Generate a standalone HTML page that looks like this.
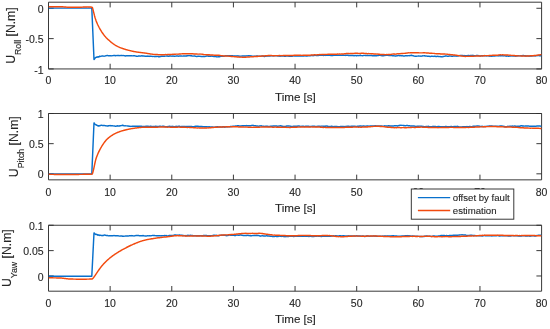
<!DOCTYPE html>
<html><head><meta charset="utf-8"><title>plot</title>
<style>html,body{margin:0;padding:0;background:#fff}svg{display:block}text{stroke:#262626;stroke-width:0.12px}</style></head>
<body>
<svg width="550" height="329" viewBox="0 0 550 329" font-family='"Liberation Sans", Arial, Helvetica, sans-serif' fill="#262626">
<rect width="550" height="329" fill="#fff"/>
<clipPath id="c0"><rect x="48.5" y="2.2" width="493.1" height="66.75"/></clipPath>
<path d="M48.5,2.2H541.6V68.95H48.5ZM110.14,68.95v-5.2M110.14,2.2v5.2M171.78,68.95v-5.2M171.78,2.2v5.2M233.41,68.95v-5.2M233.41,2.2v5.2M295.05,68.95v-5.2M295.05,2.2v5.2M356.69,68.95v-5.2M356.69,2.2v5.2M418.32,68.95v-5.2M418.32,2.2v5.2M479.96,68.95v-5.2M479.96,2.2v5.2M48.5,8.27h5.2M541.6,8.27h-5.2M48.5,38.61h5.2M541.6,38.61h-5.2M48.5,68.95h5.2M541.6,68.95h-5.2" fill="none" stroke="#2e2e2e" stroke-width="0.95"/>
<g clip-path="url(#c0)" fill="none" stroke-linejoin="round" stroke-width="1.45">
<path d="M48.5,8.10 L49.0,8.10 L49.5,8.10 L50.0,8.10 L50.5,8.10 L51.0,8.10 L51.5,8.10 L52.0,8.10 L52.5,8.10 L53.0,8.10 L53.5,8.10 L54.0,8.10 L54.5,8.10 L55.0,8.10 L55.5,8.10 L56.0,8.10 L56.5,8.10 L57.0,8.10 L57.5,8.10 L58.0,8.10 L58.5,8.10 L59.0,8.10 L59.5,8.10 L60.0,8.10 L60.5,8.10 L61.0,8.10 L61.5,8.10 L62.0,8.10 L62.5,8.10 L63.0,8.10 L63.5,8.10 L64.0,8.10 L64.5,8.10 L65.0,8.10 L65.5,8.10 L66.0,8.10 L66.5,8.10 L67.0,8.10 L67.5,8.10 L68.0,8.10 L68.5,8.10 L69.0,8.10 L69.5,8.10 L70.0,8.10 L70.5,8.10 L71.0,8.10 L71.5,8.10 L72.0,8.10 L72.5,8.10 L73.0,8.10 L73.5,8.10 L74.0,8.10 L74.5,8.10 L75.0,8.10 L75.5,8.10 L76.0,8.10 L76.5,8.10 L77.0,8.10 L77.5,8.10 L78.0,8.10 L78.5,8.10 L79.0,8.10 L79.5,8.10 L80.0,8.10 L80.5,8.10 L81.0,8.10 L81.5,8.10 L82.0,8.10 L82.5,8.10 L83.0,8.10 L83.5,8.10 L84.0,8.10 L84.5,8.10 L85.0,8.10 L85.5,8.10 L86.0,8.10 L86.5,8.10 L87.0,8.10 L87.5,8.10 L88.0,8.10 L88.5,8.10 L89.0,8.10 L89.5,8.10 L90.0,8.10 L90.1,8.10 L90.2,8.10 L90.3,8.10 L90.4,8.10 L90.5,8.10 L90.6,8.10 L90.7,8.10 L90.8,8.10 L90.9,8.10 L91.0,8.10 L91.1,8.10 L91.2,8.10 L91.3,8.10 L91.4,8.10 L91.5,8.10 L91.6,8.10 L91.7,8.10 L91.8,8.10 L91.9,10.44 L92.0,12.77 L92.1,15.11 L92.2,17.45 L92.3,19.78 L92.4,22.12 L92.5,24.45 L92.6,26.79 L92.7,29.13 L92.8,31.46 L92.9,33.80 L93.0,36.14 L93.1,38.47 L93.2,40.81 L93.3,43.15 L93.4,45.48 L93.5,47.82 L93.6,50.15 L93.7,52.49 L93.8,54.83 L93.9,57.16 L94.0,59.50 L94.1,59.50 L94.2,59.50 L94.3,59.32 L94.4,59.15 L94.5,58.98 L94.6,58.83 L94.7,58.68 L94.8,58.54 L94.9,58.41 L95.0,58.28 L95.1,58.16 L95.2,58.04 L95.3,57.93 L95.4,57.83 L95.5,57.73 L95.6,57.64 L95.7,57.55 L95.8,57.46 L95.9,57.42 L96.0,57.39 L96.1,57.38 L96.2,57.33 L96.3,57.19 L96.4,57.09 L96.5,57.15 L96.6,57.17 L96.7,57.22 L96.8,57.31 L96.9,57.26 L97.0,57.17 L97.1,57.08 L97.2,56.95 L97.3,57.05 L97.4,57.07 L97.5,57.12 L97.6,57.13 L97.7,56.97 L97.8,56.90 L97.9,56.73 L98.0,56.83 L98.1,56.77 L98.2,56.73 L98.3,56.75 L98.4,56.78 L98.5,56.83 L98.6,56.84 L98.7,56.96 L98.8,56.94 L98.9,56.92 L99.0,56.77 L99.1,56.79 L99.2,56.73 L99.3,56.61 L99.4,56.47 L99.5,56.36 L99.6,56.43 L99.7,56.37 L99.8,56.48 L99.9,56.52 L100.0,56.36 L100.5,56.38 L101.0,56.25 L101.5,56.15 L102.0,56.03 L102.5,56.07 L103.0,56.06 L103.5,56.13 L104.0,56.16 L104.5,56.12 L105.0,56.05 L105.5,55.91 L106.0,55.73 L106.5,55.61 L107.0,55.46 L107.5,55.42 L108.0,55.61 L108.5,55.80 L109.0,55.78 L109.5,55.78 L110.0,55.78 L110.5,55.68 L111.0,55.73 L111.5,55.85 L112.0,55.78 L112.5,55.63 L113.0,55.61 L113.5,55.59 L114.0,55.59 L114.5,55.52 L115.0,55.57 L115.5,55.71 L116.0,55.59 L116.5,55.61 L117.0,55.58 L117.5,55.46 L118.0,55.49 L118.5,55.47 L119.0,55.66 L119.5,55.62 L120.0,55.51 L120.5,55.63 L121.0,55.59 L121.5,55.57 L122.0,55.59 L122.5,55.60 L123.0,55.56 L123.5,55.62 L124.0,55.59 L124.5,55.71 L125.0,55.86 L125.5,55.94 L126.0,55.77 L126.5,55.74 L127.0,55.88 L127.5,55.73 L128.0,55.80 L128.5,55.77 L129.0,55.72 L129.5,55.80 L130.0,55.72 L130.5,55.74 L131.0,55.85 L131.5,55.77 L132.0,55.83 L132.5,55.87 L133.0,55.80 L133.5,55.77 L134.0,55.72 L134.5,55.73 L135.0,55.85 L135.5,55.95 L136.0,56.08 L136.5,56.18 L137.0,56.33 L137.5,56.35 L138.0,56.22 L138.5,55.91 L139.0,55.93 L139.5,56.02 L140.0,56.05 L140.5,56.17 L141.0,56.04 L141.5,55.82 L142.0,55.83 L142.5,55.93 L143.0,56.00 L143.5,56.05 L144.0,55.91 L144.5,56.12 L145.0,56.30 L145.5,56.27 L146.0,56.33 L146.5,56.23 L147.0,56.09 L147.5,56.17 L148.0,56.22 L148.5,56.30 L149.0,56.34 L149.5,56.40 L150.0,56.19 L150.5,56.26 L151.0,56.22 L151.5,56.31 L152.0,56.36 L152.5,56.41 L153.0,56.35 L153.5,56.39 L154.0,56.46 L154.5,56.49 L155.0,56.66 L155.5,56.54 L156.0,56.54 L156.5,56.50 L157.0,56.37 L157.5,56.38 L158.0,56.51 L158.5,56.70 L159.0,56.73 L159.5,56.76 L160.0,56.63 L160.5,56.51 L161.0,56.42 L161.5,56.23 L162.0,56.33 L162.5,56.30 L163.0,56.26 L163.5,56.36 L164.0,56.25 L164.5,56.27 L165.0,56.15 L165.5,56.14 L166.0,56.11 L166.5,56.08 L167.0,56.05 L167.5,56.04 L168.0,56.19 L168.5,56.27 L169.0,56.19 L169.5,56.04 L170.0,55.94 L170.5,55.96 L171.0,56.08 L171.5,56.12 L172.0,56.17 L172.5,56.06 L173.0,55.91 L173.5,56.07 L174.0,56.22 L174.5,56.20 L175.0,56.22 L175.5,56.14 L176.0,56.08 L176.5,55.99 L177.0,55.97 L177.5,56.01 L178.0,56.13 L178.5,56.16 L179.0,56.09 L179.5,56.08 L180.0,56.10 L180.5,56.01 L181.0,56.00 L181.5,56.02 L182.0,56.12 L182.5,56.13 L183.0,56.05 L183.5,55.89 L184.0,55.95 L184.5,55.92 L185.0,55.91 L185.5,55.90 L186.0,55.96 L186.5,56.01 L187.0,55.77 L187.5,55.82 L188.0,55.72 L188.5,55.60 L189.0,55.63 L189.5,55.63 L190.0,55.69 L190.5,55.68 L191.0,55.73 L191.5,55.79 L192.0,55.96 L192.5,56.05 L193.0,56.10 L193.5,56.06 L194.0,56.00 L194.5,56.03 L195.0,56.09 L195.5,56.23 L196.0,56.39 L196.5,56.46 L197.0,56.48 L197.5,56.34 L198.0,56.29 L198.5,56.28 L199.0,56.26 L199.5,56.36 L200.0,56.31 L200.5,56.40 L201.0,56.55 L201.5,56.52 L202.0,56.57 L202.5,56.62 L203.0,56.49 L203.5,56.43 L204.0,56.47 L204.5,56.46 L205.0,56.43 L205.5,56.35 L206.0,56.20 L206.5,56.09 L207.0,56.02 L207.5,56.05 L208.0,56.04 L208.5,56.18 L209.0,56.24 L209.5,56.28 L210.0,56.12 L210.5,56.25 L211.0,56.24 L211.5,56.08 L212.0,56.11 L212.5,56.18 L213.0,56.22 L213.5,56.43 L214.0,56.50 L214.5,56.42 L215.0,56.42 L215.5,56.48 L216.0,56.60 L216.5,56.76 L217.0,56.90 L217.5,56.86 L218.0,56.79 L218.5,56.79 L219.0,56.67 L219.5,56.68 L220.0,56.56 L220.5,56.29 L221.0,56.30 L221.5,56.33 L222.0,56.19 L222.5,56.26 L223.0,56.31 L223.5,56.10 L224.0,56.23 L224.5,56.10 L225.0,55.91 L225.5,55.73 L226.0,55.62 L226.5,55.66 L227.0,55.65 L227.5,55.72 L228.0,55.65 L228.5,55.74 L229.0,55.74 L229.5,55.73 L230.0,55.84 L230.5,55.70 L231.0,55.65 L231.5,55.71 L232.0,55.71 L232.5,55.75 L233.0,55.94 L233.5,55.98 L234.0,55.93 L234.5,55.84 L235.0,55.97 L235.5,56.02 L236.0,56.03 L236.5,55.99 L237.0,55.83 L237.5,55.87 L238.0,55.89 L238.5,56.03 L239.0,56.07 L239.5,56.15 L240.0,56.16 L240.5,56.13 L241.0,56.15 L241.5,56.09 L242.0,56.00 L242.5,55.88 L243.0,55.95 L243.5,55.95 L244.0,55.95 L244.5,55.89 L245.0,55.94 L245.5,55.86 L246.0,55.94 L246.5,55.85 L247.0,55.81 L247.5,55.89 L248.0,55.88 L248.5,55.66 L249.0,55.74 L249.5,55.84 L250.0,55.73 L250.5,55.94 L251.0,56.02 L251.5,56.00 L252.0,56.15 L252.5,56.17 L253.0,56.29 L253.5,56.20 L254.0,56.17 L254.5,56.12 L255.0,56.10 L255.5,56.14 L256.0,56.10 L256.5,56.02 L257.0,56.05 L257.5,56.08 L258.0,56.16 L258.5,56.26 L259.0,56.23 L259.5,56.30 L260.0,56.26 L260.5,56.12 L261.0,56.17 L261.5,56.12 L262.0,56.09 L262.5,56.08 L263.0,56.05 L263.5,56.19 L264.0,56.43 L264.5,56.47 L265.0,56.32 L265.5,56.18 L266.0,56.11 L266.5,56.15 L267.0,56.17 L267.5,55.95 L268.0,55.95 L268.5,56.04 L269.0,56.06 L269.5,56.03 L270.0,55.94 L270.5,55.78 L271.0,55.67 L271.5,55.82 L272.0,55.84 L272.5,55.88 L273.0,55.96 L273.5,55.87 L274.0,55.81 L274.5,55.77 L275.0,55.68 L275.5,55.73 L276.0,55.70 L276.5,55.77 L277.0,55.82 L277.5,55.84 L278.0,55.98 L278.5,56.11 L279.0,56.12 L279.5,56.11 L280.0,56.22 L280.5,56.08 L281.0,56.04 L281.5,56.12 L282.0,56.03 L282.5,55.93 L283.0,55.91 L283.5,56.01 L284.0,56.05 L284.5,56.20 L285.0,56.16 L285.5,56.18 L286.0,56.10 L286.5,56.10 L287.0,56.01 L287.5,56.03 L288.0,55.99 L288.5,56.08 L289.0,56.29 L289.5,56.29 L290.0,56.27 L290.5,56.27 L291.0,56.19 L291.5,56.28 L292.0,56.30 L292.5,56.05 L293.0,56.01 L293.5,55.85 L294.0,55.83 L294.5,55.98 L295.0,55.97 L295.5,56.07 L296.0,56.11 L296.5,55.94 L297.0,56.12 L297.5,56.08 L298.0,56.01 L298.5,55.99 L299.0,55.88 L299.5,55.97 L300.0,56.02 L300.5,56.11 L301.0,55.97 L301.5,56.05 L302.0,56.04 L302.5,55.98 L303.0,56.14 L303.5,56.06 L304.0,55.95 L304.5,55.77 L305.0,55.79 L305.5,55.77 L306.0,56.00 L306.5,56.09 L307.0,56.03 L307.5,55.97 L308.0,55.73 L308.5,55.79 L309.0,55.70 L309.5,55.77 L310.0,55.74 L310.5,55.66 L311.0,55.64 L311.5,55.53 L312.0,55.54 L312.5,55.62 L313.0,55.68 L313.5,55.57 L314.0,55.56 L314.5,55.36 L315.0,55.38 L315.5,55.37 L316.0,55.44 L316.5,55.45 L317.0,55.51 L317.5,55.54 L318.0,55.52 L318.5,55.45 L319.0,55.39 L319.5,55.30 L320.0,55.29 L320.5,55.26 L321.0,55.31 L321.5,55.37 L322.0,55.33 L322.5,55.39 L323.0,55.36 L323.5,55.44 L324.0,55.35 L324.5,55.30 L325.0,55.41 L325.5,55.40 L326.0,55.39 L326.5,55.36 L327.0,55.35 L327.5,55.23 L328.0,55.15 L328.5,55.17 L329.0,55.14 L329.5,55.22 L330.0,55.30 L330.5,55.42 L331.0,55.47 L331.5,55.32 L332.0,55.56 L332.5,55.42 L333.0,55.41 L333.5,55.39 L334.0,55.23 L334.5,55.29 L335.0,55.04 L335.5,55.04 L336.0,55.27 L336.5,55.31 L337.0,55.35 L337.5,55.28 L338.0,55.28 L338.5,55.34 L339.0,55.30 L339.5,55.37 L340.0,55.32 L340.5,55.30 L341.0,55.38 L341.5,55.35 L342.0,55.34 L342.5,55.31 L343.0,55.22 L343.5,55.21 L344.0,55.25 L344.5,55.33 L345.0,55.36 L345.5,55.32 L346.0,55.44 L346.5,55.25 L347.0,55.25 L347.5,55.27 L348.0,55.27 L348.5,55.47 L349.0,55.43 L349.5,55.53 L350.0,55.43 L350.5,55.50 L351.0,55.54 L351.5,55.48 L352.0,55.39 L352.5,55.54 L353.0,55.45 L353.5,55.58 L354.0,55.76 L354.5,55.49 L355.0,55.60 L355.5,55.56 L356.0,55.53 L356.5,55.77 L357.0,55.50 L357.5,55.53 L358.0,55.66 L358.5,55.62 L359.0,55.65 L359.5,55.64 L360.0,55.43 L360.5,55.29 L361.0,55.48 L361.5,55.62 L362.0,55.65 L362.5,55.76 L363.0,55.65 L363.5,55.45 L364.0,55.36 L364.5,55.40 L365.0,55.42 L365.5,55.50 L366.0,55.52 L366.5,55.36 L367.0,55.64 L367.5,55.59 L368.0,55.58 L368.5,55.61 L369.0,55.46 L369.5,55.46 L370.0,55.47 L370.5,55.43 L371.0,55.44 L371.5,55.45 L372.0,55.73 L372.5,55.68 L373.0,55.67 L373.5,55.76 L374.0,55.70 L374.5,55.74 L375.0,55.77 L375.5,55.79 L376.0,55.77 L376.5,55.76 L377.0,55.69 L377.5,55.50 L378.0,55.53 L378.5,55.42 L379.0,55.36 L379.5,55.36 L380.0,55.33 L380.5,55.37 L381.0,55.60 L381.5,55.58 L382.0,55.74 L382.5,55.67 L383.0,55.70 L383.5,55.68 L384.0,55.60 L384.5,55.56 L385.0,55.46 L385.5,55.32 L386.0,55.21 L386.5,55.21 L387.0,55.29 L387.5,55.19 L388.0,55.23 L388.5,55.45 L389.0,55.47 L389.5,55.53 L390.0,55.58 L390.5,55.61 L391.0,55.46 L391.5,55.51 L392.0,55.59 L392.5,55.72 L393.0,55.72 L393.5,55.83 L394.0,55.83 L394.5,55.88 L395.0,55.93 L395.5,56.03 L396.0,55.98 L396.5,55.89 L397.0,55.73 L397.5,55.66 L398.0,55.63 L398.5,55.54 L399.0,55.59 L399.5,55.70 L400.0,55.59 L400.5,55.60 L401.0,55.85 L401.5,55.69 L402.0,55.69 L402.5,55.87 L403.0,55.84 L403.5,55.94 L404.0,55.86 L404.5,55.96 L405.0,55.87 L405.5,55.66 L406.0,55.68 L406.5,55.62 L407.0,55.75 L407.5,55.88 L408.0,55.75 L408.5,55.64 L409.0,55.65 L409.5,55.68 L410.0,55.56 L410.5,55.49 L411.0,55.48 L411.5,55.31 L412.0,55.42 L412.5,55.63 L413.0,55.75 L413.5,55.83 L414.0,55.99 L414.5,56.12 L415.0,56.24 L415.5,56.25 L416.0,56.19 L416.5,56.18 L417.0,56.12 L417.5,56.12 L418.0,56.07 L418.5,55.96 L419.0,55.94 L419.5,56.10 L420.0,56.13 L420.5,56.08 L421.0,56.22 L421.5,56.13 L422.0,56.09 L422.5,55.82 L423.0,55.90 L423.5,55.87 L424.0,55.77 L424.5,55.83 L425.0,55.93 L425.5,55.95 L426.0,56.03 L426.5,56.11 L427.0,56.09 L427.5,56.20 L428.0,56.25 L428.5,56.27 L429.0,56.30 L429.5,56.34 L430.0,56.52 L430.5,56.46 L431.0,56.33 L431.5,56.34 L432.0,56.30 L432.5,56.39 L433.0,56.32 L433.5,56.37 L434.0,56.42 L434.5,56.16 L435.0,56.19 L435.5,56.44 L436.0,56.45 L436.5,56.55 L437.0,56.44 L437.5,56.33 L438.0,56.35 L438.5,56.49 L439.0,56.56 L439.5,56.60 L440.0,56.49 L440.5,56.66 L441.0,56.65 L441.5,56.70 L442.0,56.83 L442.5,56.70 L443.0,56.54 L443.5,56.56 L444.0,56.38 L444.5,56.32 L445.0,56.21 L445.5,55.95 L446.0,55.85 L446.5,56.02 L447.0,56.17 L447.5,56.34 L448.0,56.23 L448.5,56.25 L449.0,56.16 L449.5,56.04 L450.0,56.03 L450.5,56.09 L451.0,56.13 L451.5,56.17 L452.0,56.22 L452.5,56.24 L453.0,56.08 L453.5,55.94 L454.0,55.95 L454.5,55.96 L455.0,55.96 L455.5,55.95 L456.0,56.02 L456.5,56.10 L457.0,56.16 L457.5,55.98 L458.0,55.91 L458.5,55.92 L459.0,55.65 L459.5,55.62 L460.0,55.47 L460.5,55.37 L461.0,55.46 L461.5,55.47 L462.0,55.51 L462.5,55.57 L463.0,55.67 L463.5,55.61 L464.0,55.57 L464.5,55.70 L465.0,55.73 L465.5,55.78 L466.0,55.76 L466.5,55.75 L467.0,55.68 L467.5,55.63 L468.0,55.49 L468.5,55.50 L469.0,55.56 L469.5,55.61 L470.0,55.77 L470.5,55.51 L471.0,55.55 L471.5,55.49 L472.0,55.37 L472.5,55.39 L473.0,55.34 L473.5,55.54 L474.0,55.71 L474.5,55.73 L475.0,55.80 L475.5,55.83 L476.0,55.68 L476.5,55.48 L477.0,55.49 L477.5,55.59 L478.0,55.55 L478.5,55.63 L479.0,55.85 L479.5,55.90 L480.0,56.07 L480.5,56.08 L481.0,55.87 L481.5,55.80 L482.0,55.84 L482.5,55.70 L483.0,55.67 L483.5,55.84 L484.0,55.60 L484.5,55.54 L485.0,55.82 L485.5,55.68 L486.0,55.91 L486.5,55.91 L487.0,55.72 L487.5,55.73 L488.0,55.64 L488.5,55.82 L489.0,56.02 L489.5,56.09 L490.0,56.27 L490.5,56.13 L491.0,56.12 L491.5,56.18 L492.0,56.17 L492.5,56.12 L493.0,56.01 L493.5,56.07 L494.0,55.94 L494.5,55.92 L495.0,55.96 L495.5,55.87 L496.0,55.77 L496.5,55.73 L497.0,55.79 L497.5,55.81 L498.0,55.91 L498.5,55.83 L499.0,55.87 L499.5,55.78 L500.0,55.82 L500.5,55.91 L501.0,55.70 L501.5,55.68 L502.0,55.77 L502.5,55.82 L503.0,55.91 L503.5,55.86 L504.0,55.82 L504.5,55.77 L505.0,55.85 L505.5,55.93 L506.0,56.03 L506.5,56.18 L507.0,56.05 L507.5,56.09 L508.0,56.15 L508.5,56.24 L509.0,56.18 L509.5,56.11 L510.0,55.92 L510.5,55.84 L511.0,55.94 L511.5,55.79 L512.0,55.87 L512.5,55.92 L513.0,55.94 L513.5,55.90 L514.0,55.94 L514.5,55.94 L515.0,55.91 L515.5,56.16 L516.0,56.11 L516.5,56.03 L517.0,55.97 L517.5,55.78 L518.0,55.82 L518.5,55.76 L519.0,55.83 L519.5,55.87 L520.0,55.88 L520.5,55.83 L521.0,55.78 L521.5,55.78 L522.0,55.81 L522.5,55.75 L523.0,55.51 L523.5,55.53 L524.0,55.60 L524.5,55.67 L525.0,55.91 L525.5,55.83 L526.0,55.91 L526.5,56.00 L527.0,55.84 L527.5,55.85 L528.0,55.98 L528.5,56.13 L529.0,56.04 L529.5,56.13 L530.0,56.16 L530.5,55.95 L531.0,55.95 L531.5,55.98 L532.0,55.95 L532.5,55.86 L533.0,55.87 L533.5,55.84 L534.0,55.87 L534.5,55.86 L535.0,55.96 L535.5,55.81 L536.0,55.68 L536.5,55.69 L537.0,55.50 L537.5,55.58 L538.0,55.66 L538.5,55.53 L539.0,55.62 L539.5,55.78 L540.0,55.72 L540.5,55.82 L541.0,55.83 L541.5,55.76" stroke="#0870CC"/>
<path d="M48.5,6.89 L49.0,6.87 L49.5,6.84 L50.0,6.82 L50.5,6.81 L51.0,6.79 L51.5,6.78 L52.0,6.76 L52.5,6.75 L53.0,6.74 L53.5,6.73 L54.0,6.73 L54.5,6.72 L55.0,6.72 L55.5,6.71 L56.0,6.71 L56.5,6.71 L57.0,6.70 L57.5,6.70 L58.0,6.70 L58.5,6.70 L59.0,6.70 L59.5,6.70 L60.0,6.70 L60.5,6.70 L61.0,6.72 L61.5,6.74 L62.0,6.76 L62.5,6.79 L63.0,6.83 L63.5,6.87 L64.0,6.91 L64.5,6.96 L65.0,7.00 L65.5,7.04 L66.0,7.09 L66.5,7.13 L67.0,7.17 L67.5,7.21 L68.0,7.24 L68.5,7.26 L69.0,7.28 L69.5,7.30 L70.0,7.30 L70.5,7.30 L71.0,7.30 L71.5,7.30 L72.0,7.29 L72.5,7.29 L73.0,7.29 L73.5,7.28 L74.0,7.28 L74.5,7.28 L75.0,7.27 L75.5,7.26 L76.0,7.26 L76.5,7.25 L77.0,7.25 L77.5,7.24 L78.0,7.23 L78.5,7.22 L79.0,7.22 L79.5,7.21 L80.0,7.20 L80.5,7.19 L81.0,7.17 L81.5,7.16 L82.0,7.13 L82.5,7.11 L83.0,7.09 L83.5,7.06 L84.0,7.03 L84.5,7.01 L85.0,6.98 L85.5,6.96 L86.0,6.94 L86.5,6.92 L87.0,6.91 L87.5,6.90 L88.0,6.90 L88.5,6.90 L89.0,6.92 L89.5,6.94 L90.0,6.97 L90.5,7.02 L91.0,7.08 L91.5,7.16 L92.0,7.26 L92.5,7.80 L93.0,9.73 L93.5,11.62 L94.0,13.67 L94.5,15.70 L95.0,17.48 L95.5,19.09 L96.0,20.58 L96.5,21.90 L97.0,23.09 L97.5,24.22 L98.0,25.28 L98.5,26.29 L99.0,27.26 L99.5,28.17 L100.0,29.05 L100.5,29.90 L101.0,30.73 L101.5,31.52 L102.0,32.29 L102.5,33.03 L103.0,33.74 L103.5,34.42 L104.0,35.07 L104.5,35.70 L105.0,36.30 L105.5,36.87 L106.0,37.42 L106.5,37.94 L107.0,38.45 L107.5,38.94 L108.0,39.41 L108.5,39.88 L109.0,40.33 L109.5,40.78 L110.0,41.22 L110.5,41.65 L111.0,42.08 L111.5,42.49 L112.0,42.89 L112.5,43.27 L113.0,43.65 L113.5,44.00 L114.0,44.34 L114.5,44.68 L115.0,45.00 L115.5,45.32 L116.0,45.62 L116.5,45.91 L117.0,46.19 L117.5,46.45 L118.0,46.70 L118.5,46.93 L119.0,47.15 L119.5,47.36 L120.0,47.56 L120.5,47.76 L121.0,47.94 L121.5,48.13 L122.0,48.30 L122.5,48.47 L123.0,48.64 L123.5,48.80 L124.0,48.97 L124.5,49.13 L125.0,49.28 L125.5,49.44 L126.0,49.59 L126.5,49.73 L127.0,49.88 L127.5,50.02 L128.0,50.15 L128.5,50.29 L129.0,50.41 L129.5,50.54 L130.0,50.66 L130.5,50.78 L131.0,50.89 L131.5,51.00 L132.0,51.11 L132.5,51.22 L133.0,51.32 L133.5,51.42 L134.0,51.52 L134.5,51.62 L135.0,51.71 L135.5,51.80 L136.0,51.88 L136.5,51.97 L137.0,52.05 L137.5,52.13 L138.0,52.20 L138.5,52.27 L139.0,52.34 L139.5,52.40 L140.0,52.46 L140.5,52.51 L141.0,52.57 L141.5,52.62 L142.0,52.68 L142.5,52.73 L143.0,52.79 L143.5,52.85 L144.0,52.91 L144.5,52.98 L145.0,53.05 L145.5,53.13 L146.0,53.21 L146.5,53.29 L147.0,53.37 L147.5,53.45 L148.0,53.53 L148.5,53.61 L149.0,53.69 L149.5,53.77 L150.0,53.85 L150.5,53.95 L151.0,54.03 L151.5,54.14 L152.0,54.15 L152.5,54.19 L153.0,54.31 L153.5,54.38 L154.0,54.36 L154.5,54.40 L155.0,54.40 L155.5,54.44 L156.0,54.46 L156.5,54.53 L157.0,54.52 L157.5,54.51 L158.0,54.60 L158.5,54.66 L159.0,54.62 L159.5,54.75 L160.0,54.73 L160.5,54.75 L161.0,54.74 L161.5,54.73 L162.0,54.67 L162.5,54.71 L163.0,54.76 L163.5,54.70 L164.0,54.72 L164.5,54.71 L165.0,54.63 L165.5,54.57 L166.0,54.59 L166.5,54.61 L167.0,54.60 L167.5,54.54 L168.0,54.51 L168.5,54.49 L169.0,54.51 L169.5,54.47 L170.0,54.43 L170.5,54.43 L171.0,54.47 L171.5,54.37 L172.0,54.38 L172.5,54.32 L173.0,54.35 L173.5,54.33 L174.0,54.32 L174.5,54.29 L175.0,54.23 L175.5,54.17 L176.0,54.14 L176.5,54.10 L177.0,54.12 L177.5,54.14 L178.0,54.19 L178.5,54.10 L179.0,54.07 L179.5,54.03 L180.0,54.00 L180.5,53.98 L181.0,53.89 L181.5,53.86 L182.0,53.79 L182.5,53.66 L183.0,53.68 L183.5,53.73 L184.0,53.66 L184.5,53.72 L185.0,53.70 L185.5,53.67 L186.0,53.70 L186.5,53.69 L187.0,53.72 L187.5,53.74 L188.0,53.80 L188.5,53.81 L189.0,53.83 L189.5,53.83 L190.0,53.76 L190.5,53.76 L191.0,53.73 L191.5,53.80 L192.0,53.82 L192.5,53.77 L193.0,53.80 L193.5,53.90 L194.0,53.90 L194.5,53.99 L195.0,54.01 L195.5,54.01 L196.0,54.03 L196.5,54.02 L197.0,54.00 L197.5,54.12 L198.0,54.10 L198.5,54.12 L199.0,54.11 L199.5,54.14 L200.0,54.07 L200.5,54.11 L201.0,54.13 L201.5,54.13 L202.0,54.23 L202.5,54.32 L203.0,54.42 L203.5,54.48 L204.0,54.55 L204.5,54.60 L205.0,54.64 L205.5,54.61 L206.0,54.70 L206.5,54.72 L207.0,54.76 L207.5,54.77 L208.0,54.82 L208.5,54.83 L209.0,54.91 L209.5,54.82 L210.0,54.92 L210.5,54.91 L211.0,54.95 L211.5,54.98 L212.0,55.05 L212.5,55.02 L213.0,55.02 L213.5,55.10 L214.0,55.11 L214.5,55.16 L215.0,55.15 L215.5,55.16 L216.0,55.17 L216.5,55.27 L217.0,55.31 L217.5,55.32 L218.0,55.27 L218.5,55.34 L219.0,55.30 L219.5,55.34 L220.0,55.43 L220.5,55.57 L221.0,55.60 L221.5,55.71 L222.0,55.71 L222.5,55.79 L223.0,55.88 L223.5,55.93 L224.0,55.96 L224.5,55.97 L225.0,56.03 L225.5,56.00 L226.0,56.06 L226.5,56.01 L227.0,56.08 L227.5,56.10 L228.0,56.08 L228.5,56.13 L229.0,56.17 L229.5,56.23 L230.0,56.36 L230.5,56.33 L231.0,56.41 L231.5,56.42 L232.0,56.51 L232.5,56.46 L233.0,56.53 L233.5,56.62 L234.0,56.65 L234.5,56.69 L235.0,56.65 L235.5,56.69 L236.0,56.78 L236.5,56.89 L237.0,56.97 L237.5,56.98 L238.0,57.00 L238.5,57.04 L239.0,57.04 L239.5,57.10 L240.0,57.21 L240.5,57.15 L241.0,57.14 L241.5,57.13 L242.0,57.19 L242.5,57.25 L243.0,57.29 L243.5,57.38 L244.0,57.32 L244.5,57.24 L245.0,57.19 L245.5,57.10 L246.0,57.16 L246.5,57.10 L247.0,57.14 L247.5,57.08 L248.0,57.03 L248.5,57.01 L249.0,56.94 L249.5,56.94 L250.0,56.85 L250.5,56.84 L251.0,56.81 L251.5,56.75 L252.0,56.68 L252.5,56.68 L253.0,56.69 L253.5,56.69 L254.0,56.65 L254.5,56.58 L255.0,56.51 L255.5,56.45 L256.0,56.38 L256.5,56.43 L257.0,56.44 L257.5,56.44 L258.0,56.33 L258.5,56.37 L259.0,56.34 L259.5,56.30 L260.0,56.24 L260.5,56.19 L261.0,56.10 L261.5,56.06 L262.0,56.03 L262.5,56.02 L263.0,56.04 L263.5,56.01 L264.0,55.96 L264.5,55.89 L265.0,55.79 L265.5,55.75 L266.0,55.67 L266.5,55.67 L267.0,55.69 L267.5,55.61 L268.0,55.52 L268.5,55.51 L269.0,55.49 L269.5,55.50 L270.0,55.51 L270.5,55.49 L271.0,55.54 L271.5,55.55 L272.0,55.61 L272.5,55.63 L273.0,55.69 L273.5,55.70 L274.0,55.71 L274.5,55.66 L275.0,55.64 L275.5,55.65 L276.0,55.62 L276.5,55.62 L277.0,55.62 L277.5,55.68 L278.0,55.65 L278.5,55.64 L279.0,55.57 L279.5,55.54 L280.0,55.66 L280.5,55.62 L281.0,55.58 L281.5,55.61 L282.0,55.65 L282.5,55.63 L283.0,55.55 L283.5,55.55 L284.0,55.49 L284.5,55.52 L285.0,55.46 L285.5,55.46 L286.0,55.40 L286.5,55.40 L287.0,55.39 L287.5,55.41 L288.0,55.46 L288.5,55.47 L289.0,55.48 L289.5,55.41 L290.0,55.40 L290.5,55.43 L291.0,55.52 L291.5,55.56 L292.0,55.51 L292.5,55.48 L293.0,55.48 L293.5,55.41 L294.0,55.28 L294.5,55.30 L295.0,55.28 L295.5,55.26 L296.0,55.24 L296.5,55.14 L297.0,55.20 L297.5,55.17 L298.0,55.23 L298.5,55.29 L299.0,55.33 L299.5,55.33 L300.0,55.31 L300.5,55.30 L301.0,55.34 L301.5,55.38 L302.0,55.37 L302.5,55.34 L303.0,55.28 L303.5,55.20 L304.0,55.17 L304.5,55.21 L305.0,55.24 L305.5,55.25 L306.0,55.29 L306.5,55.21 L307.0,55.21 L307.5,55.21 L308.0,55.17 L308.5,55.20 L309.0,55.13 L309.5,55.16 L310.0,55.16 L310.5,55.14 L311.0,55.09 L311.5,55.08 L312.0,55.02 L312.5,54.98 L313.0,54.97 L313.5,54.93 L314.0,54.87 L314.5,54.76 L315.0,54.78 L315.5,54.88 L316.0,54.92 L316.5,54.86 L317.0,54.80 L317.5,54.67 L318.0,54.62 L318.5,54.66 L319.0,54.65 L319.5,54.55 L320.0,54.62 L320.5,54.59 L321.0,54.62 L321.5,54.58 L322.0,54.54 L322.5,54.46 L323.0,54.42 L323.5,54.41 L324.0,54.39 L324.5,54.42 L325.0,54.35 L325.5,54.35 L326.0,54.42 L326.5,54.39 L327.0,54.35 L327.5,54.30 L328.0,54.23 L328.5,54.21 L329.0,54.18 L329.5,54.21 L330.0,54.22 L330.5,54.21 L331.0,54.18 L331.5,54.28 L332.0,54.25 L332.5,54.25 L333.0,54.20 L333.5,54.21 L334.0,54.26 L334.5,54.32 L335.0,54.30 L335.5,54.22 L336.0,54.20 L336.5,54.18 L337.0,54.19 L337.5,54.08 L338.0,54.03 L338.5,54.10 L339.0,54.08 L339.5,54.01 L340.0,54.08 L340.5,54.10 L341.0,54.05 L341.5,54.04 L342.0,54.06 L342.5,54.01 L343.0,53.98 L343.5,53.92 L344.0,53.87 L344.5,53.80 L345.0,53.75 L345.5,53.74 L346.0,53.57 L346.5,53.49 L347.0,53.51 L347.5,53.50 L348.0,53.49 L348.5,53.54 L349.0,53.55 L349.5,53.60 L350.0,53.58 L350.5,53.56 L351.0,53.53 L351.5,53.54 L352.0,53.44 L352.5,53.43 L353.0,53.45 L353.5,53.42 L354.0,53.35 L354.5,53.33 L355.0,53.29 L355.5,53.21 L356.0,53.26 L356.5,53.29 L357.0,53.31 L357.5,53.27 L358.0,53.38 L358.5,53.44 L359.0,53.38 L359.5,53.42 L360.0,53.44 L360.5,53.39 L361.0,53.31 L361.5,53.26 L362.0,53.28 L362.5,53.28 L363.0,53.32 L363.5,53.30 L364.0,53.37 L364.5,53.35 L365.0,53.42 L365.5,53.47 L366.0,53.56 L366.5,53.55 L367.0,53.59 L367.5,53.70 L368.0,53.60 L368.5,53.56 L369.0,53.65 L369.5,53.63 L370.0,53.62 L370.5,53.61 L371.0,53.71 L371.5,53.70 L372.0,53.76 L372.5,53.74 L373.0,53.80 L373.5,53.92 L374.0,53.97 L374.5,54.00 L375.0,54.03 L375.5,54.09 L376.0,54.09 L376.5,54.12 L377.0,54.07 L377.5,54.14 L378.0,54.09 L378.5,54.16 L379.0,54.26 L379.5,54.31 L380.0,54.48 L380.5,54.51 L381.0,54.48 L381.5,54.53 L382.0,54.55 L382.5,54.49 L383.0,54.42 L383.5,54.48 L384.0,54.51 L384.5,54.59 L385.0,54.65 L385.5,54.64 L386.0,54.60 L386.5,54.59 L387.0,54.58 L387.5,54.61 L388.0,54.57 L388.5,54.55 L389.0,54.54 L389.5,54.55 L390.0,54.58 L390.5,54.50 L391.0,54.38 L391.5,54.31 L392.0,54.15 L392.5,54.14 L393.0,54.08 L393.5,54.05 L394.0,54.04 L394.5,54.07 L395.0,54.17 L395.5,54.11 L396.0,54.07 L396.5,53.97 L397.0,53.84 L397.5,53.81 L398.0,53.86 L398.5,53.80 L399.0,53.74 L399.5,53.70 L400.0,53.68 L400.5,53.59 L401.0,53.60 L401.5,53.51 L402.0,53.47 L402.5,53.41 L403.0,53.42 L403.5,53.40 L404.0,53.38 L404.5,53.36 L405.0,53.31 L405.5,53.27 L406.0,53.19 L406.5,53.12 L407.0,52.96 L407.5,52.95 L408.0,52.88 L408.5,52.83 L409.0,52.90 L409.5,52.85 L410.0,52.79 L410.5,52.79 L411.0,52.79 L411.5,52.74 L412.0,52.69 L412.5,52.77 L413.0,52.74 L413.5,52.75 L414.0,52.75 L414.5,52.73 L415.0,52.71 L415.5,52.66 L416.0,52.68 L416.5,52.68 L417.0,52.71 L417.5,52.72 L418.0,52.78 L418.5,52.80 L419.0,52.86 L419.5,52.87 L420.0,52.88 L420.5,52.89 L421.0,52.86 L421.5,52.89 L422.0,52.88 L422.5,52.85 L423.0,52.79 L423.5,52.78 L424.0,52.79 L424.5,52.82 L425.0,52.83 L425.5,52.87 L426.0,52.85 L426.5,52.98 L427.0,52.98 L427.5,53.04 L428.0,53.06 L428.5,53.07 L429.0,53.13 L429.5,53.19 L430.0,53.23 L430.5,53.23 L431.0,53.24 L431.5,53.28 L432.0,53.32 L432.5,53.37 L433.0,53.39 L433.5,53.37 L434.0,53.39 L434.5,53.50 L435.0,53.60 L435.5,53.65 L436.0,53.69 L436.5,53.66 L437.0,53.77 L437.5,53.75 L438.0,53.79 L438.5,53.75 L439.0,53.79 L439.5,53.79 L440.0,53.84 L440.5,53.91 L441.0,53.89 L441.5,53.92 L442.0,53.92 L442.5,54.01 L443.0,54.02 L443.5,54.03 L444.0,54.04 L444.5,54.04 L445.0,54.07 L445.5,54.11 L446.0,54.13 L446.5,54.13 L447.0,54.22 L447.5,54.24 L448.0,54.34 L448.5,54.45 L449.0,54.41 L449.5,54.46 L450.0,54.53 L450.5,54.63 L451.0,54.67 L451.5,54.74 L452.0,54.80 L452.5,54.77 L453.0,54.86 L453.5,54.91 L454.0,55.02 L454.5,55.01 L455.0,55.06 L455.5,55.10 L456.0,55.17 L456.5,55.27 L457.0,55.38 L457.5,55.46 L458.0,55.56 L458.5,55.65 L459.0,55.63 L459.5,55.75 L460.0,55.73 L460.5,55.84 L461.0,55.95 L461.5,56.02 L462.0,56.09 L462.5,56.12 L463.0,56.19 L463.5,56.26 L464.0,56.31 L464.5,56.38 L465.0,56.41 L465.5,56.41 L466.0,56.35 L466.5,56.36 L467.0,56.32 L467.5,56.36 L468.0,56.40 L468.5,56.35 L469.0,56.35 L469.5,56.35 L470.0,56.26 L470.5,56.20 L471.0,56.23 L471.5,56.24 L472.0,56.32 L472.5,56.28 L473.0,56.23 L473.5,56.25 L474.0,56.16 L474.5,56.15 L475.0,56.14 L475.5,56.04 L476.0,56.01 L476.5,56.03 L477.0,56.05 L477.5,56.07 L478.0,56.04 L478.5,56.04 L479.0,56.06 L479.5,56.03 L480.0,55.96 L480.5,55.95 L481.0,55.87 L481.5,55.85 L482.0,55.92 L482.5,55.91 L483.0,55.87 L483.5,55.79 L484.0,55.78 L484.5,55.68 L485.0,55.65 L485.5,55.60 L486.0,55.63 L486.5,55.63 L487.0,55.62 L487.5,55.64 L488.0,55.66 L488.5,55.63 L489.0,55.56 L489.5,55.51 L490.0,55.48 L490.5,55.47 L491.0,55.44 L491.5,55.35 L492.0,55.35 L492.5,55.31 L493.0,55.32 L493.5,55.29 L494.0,55.27 L494.5,55.27 L495.0,55.29 L495.5,55.34 L496.0,55.31 L496.5,55.31 L497.0,55.24 L497.5,55.20 L498.0,55.15 L498.5,55.05 L499.0,54.96 L499.5,54.90 L500.0,54.83 L500.5,54.84 L501.0,54.88 L501.5,54.85 L502.0,54.88 L502.5,54.83 L503.0,54.82 L503.5,54.86 L504.0,54.88 L504.5,54.92 L505.0,54.98 L505.5,55.00 L506.0,55.04 L506.5,55.05 L507.0,55.08 L507.5,55.04 L508.0,55.04 L508.5,55.11 L509.0,55.15 L509.5,55.17 L510.0,55.22 L510.5,55.29 L511.0,55.38 L511.5,55.43 L512.0,55.43 L512.5,55.40 L513.0,55.38 L513.5,55.41 L514.0,55.48 L514.5,55.57 L515.0,55.67 L515.5,55.72 L516.0,55.71 L516.5,55.82 L517.0,55.80 L517.5,55.84 L518.0,55.85 L518.5,55.89 L519.0,55.89 L519.5,55.89 L520.0,55.89 L520.5,55.89 L521.0,55.98 L521.5,56.00 L522.0,56.04 L522.5,56.07 L523.0,56.07 L523.5,56.09 L524.0,56.13 L524.5,56.08 L525.0,56.07 L525.5,56.11 L526.0,56.05 L526.5,56.03 L527.0,56.01 L527.5,55.94 L528.0,55.98 L528.5,55.88 L529.0,55.96 L529.5,55.89 L530.0,55.81 L530.5,55.75 L531.0,55.72 L531.5,55.75 L532.0,55.73 L532.5,55.68 L533.0,55.66 L533.5,55.67 L534.0,55.59 L534.5,55.53 L535.0,55.43 L535.5,55.40 L536.0,55.41 L536.5,55.37 L537.0,55.27 L537.5,55.21 L538.0,55.09 L538.5,55.06 L539.0,54.95 L539.5,54.88 L540.0,54.79 L540.5,54.78 L541.0,54.66 L541.5,54.56" stroke="#F24A0E"/>
</g>
<g font-size="10.5" text-anchor="middle">
<text x="48.5" y="84.4">0</text>
<text x="110.1" y="84.4">10</text>
<text x="171.8" y="84.4">20</text>
<text x="233.4" y="84.4">30</text>
<text x="295.1" y="84.4">40</text>
<text x="356.7" y="84.4">50</text>
<text x="418.3" y="84.4">60</text>
<text x="480.0" y="84.4">70</text>
<text x="541.6" y="84.4">80</text>
</g>
<g font-size="10.5" text-anchor="end">
<text x="43.6" y="12.9">0</text>
<text x="43.6" y="43.2">-0.5</text>
<text x="43.6" y="73.5">-1</text>
</g>
<text x="295.4" y="100.5" font-size="11.6" text-anchor="middle">Time [s]</text>
<text transform="translate(14.5,35.6) rotate(-90)" font-size="12.2" text-anchor="middle">U<tspan font-size="8.8" dy="6.0">Roll</tspan><tspan dy="-6.0"> [N.m]</tspan></text>
<clipPath id="c1"><rect x="48.5" y="113.5" width="493.1" height="66.35"/></clipPath>
<path d="M48.5,113.5H541.6V179.85H48.5ZM110.14,179.85v-5.2M110.14,113.5v5.2M171.78,179.85v-5.2M171.78,113.5v5.2M233.41,179.85v-5.2M233.41,113.5v5.2M295.05,179.85v-5.2M295.05,113.5v5.2M356.69,179.85v-5.2M356.69,113.5v5.2M418.32,179.85v-5.2M418.32,113.5v5.2M479.96,179.85v-5.2M479.96,113.5v5.2M48.5,113.50h5.2M541.6,113.50h-5.2M48.5,143.66h5.2M541.6,143.66h-5.2M48.5,173.82h5.2M541.6,173.82h-5.2" fill="none" stroke="#2e2e2e" stroke-width="0.95"/>
<g clip-path="url(#c1)" fill="none" stroke-linejoin="round" stroke-width="1.45">
<path d="M48.5,174.00 L49.0,174.00 L49.5,174.00 L50.0,174.00 L50.5,174.00 L51.0,174.00 L51.5,174.00 L52.0,174.00 L52.5,174.00 L53.0,174.00 L53.5,174.00 L54.0,174.00 L54.5,174.00 L55.0,174.00 L55.5,174.00 L56.0,174.00 L56.5,174.00 L57.0,174.00 L57.5,174.00 L58.0,174.00 L58.5,174.00 L59.0,174.00 L59.5,174.00 L60.0,174.00 L60.5,174.00 L61.0,174.00 L61.5,174.00 L62.0,174.00 L62.5,174.00 L63.0,174.00 L63.5,174.00 L64.0,174.00 L64.5,174.00 L65.0,174.00 L65.5,174.00 L66.0,174.00 L66.5,174.00 L67.0,174.00 L67.5,174.00 L68.0,174.00 L68.5,174.00 L69.0,174.00 L69.5,174.00 L70.0,174.00 L70.5,174.00 L71.0,174.00 L71.5,174.00 L72.0,174.00 L72.5,174.00 L73.0,174.00 L73.5,174.00 L74.0,174.00 L74.5,174.00 L75.0,174.00 L75.5,174.00 L76.0,174.00 L76.5,174.00 L77.0,174.00 L77.5,174.00 L78.0,174.00 L78.5,174.00 L79.0,174.00 L79.5,174.00 L80.0,174.00 L80.5,174.00 L81.0,174.00 L81.5,174.00 L82.0,174.00 L82.5,174.00 L83.0,174.00 L83.5,174.00 L84.0,174.00 L84.5,174.00 L85.0,174.00 L85.5,174.00 L86.0,174.00 L86.5,174.00 L87.0,174.00 L87.5,174.00 L88.0,174.00 L88.5,174.00 L89.0,174.00 L89.5,174.00 L90.0,174.00 L90.1,174.00 L90.2,174.00 L90.3,174.00 L90.4,174.00 L90.5,174.00 L90.6,174.00 L90.7,174.00 L90.8,174.00 L90.9,174.00 L91.0,174.00 L91.1,174.00 L91.2,174.00 L91.3,174.00 L91.4,174.00 L91.5,174.00 L91.6,174.00 L91.7,174.00 L91.8,174.00 L91.9,171.68 L92.0,169.35 L92.1,167.03 L92.2,164.71 L92.3,162.39 L92.4,160.06 L92.5,157.74 L92.6,155.42 L92.7,153.10 L92.8,150.77 L92.9,148.45 L93.0,146.13 L93.1,143.80 L93.2,141.48 L93.3,139.16 L93.4,136.84 L93.5,134.51 L93.6,132.19 L93.7,129.87 L93.8,127.55 L93.9,125.22 L94.0,122.90 L94.1,122.90 L94.2,122.90 L94.3,123.07 L94.4,123.22 L94.5,123.37 L94.6,123.52 L94.7,123.65 L94.8,123.78 L94.9,123.90 L95.0,124.02 L95.1,124.13 L95.2,124.24 L95.3,124.34 L95.4,124.43 L95.5,124.53 L95.6,124.61 L95.7,124.69 L95.8,124.77 L95.9,124.66 L96.0,124.68 L96.1,124.75 L96.2,124.82 L96.3,124.90 L96.4,125.08 L96.5,125.15 L96.6,125.13 L96.7,125.28 L96.8,125.27 L96.9,125.25 L97.0,125.29 L97.1,125.27 L97.2,125.24 L97.3,125.40 L97.4,125.56 L97.5,125.50 L97.6,125.74 L97.7,125.68 L97.8,125.76 L97.9,125.72 L98.0,125.75 L98.1,125.92 L98.2,125.94 L98.3,125.72 L98.4,125.88 L98.5,125.88 L98.6,125.77 L98.7,125.95 L98.8,125.95 L98.9,125.85 L99.0,125.86 L99.1,125.90 L99.2,125.90 L99.3,125.84 L99.4,125.82 L99.5,125.84 L99.6,125.75 L99.7,125.72 L99.8,125.72 L99.9,125.63 L100.0,125.52 L100.5,125.54 L101.0,125.34 L101.5,125.34 L102.0,125.40 L102.5,125.48 L103.0,125.48 L103.5,125.38 L104.0,125.50 L104.5,125.56 L105.0,125.61 L105.5,125.73 L106.0,125.80 L106.5,125.86 L107.0,125.94 L107.5,125.84 L108.0,125.96 L108.5,125.80 L109.0,125.80 L109.5,125.60 L110.0,125.56 L110.5,125.70 L111.0,125.66 L111.5,125.81 L112.0,125.81 L112.5,125.80 L113.0,125.88 L113.5,125.89 L114.0,126.00 L114.5,125.99 L115.0,126.10 L115.5,126.19 L116.0,126.16 L116.5,126.08 L117.0,125.92 L117.5,125.81 L118.0,125.92 L118.5,126.02 L119.0,126.07 L119.5,125.96 L120.0,125.76 L120.5,125.73 L121.0,125.59 L121.5,125.61 L122.0,125.45 L122.5,125.22 L123.0,125.54 L123.5,125.53 L124.0,125.72 L124.5,125.85 L125.0,125.74 L125.5,125.84 L126.0,125.88 L126.5,125.88 L127.0,125.89 L127.5,125.92 L128.0,126.00 L128.5,126.07 L129.0,126.22 L129.5,126.28 L130.0,126.30 L130.5,126.41 L131.0,126.38 L131.5,126.36 L132.0,126.24 L132.5,126.16 L133.0,126.17 L133.5,126.26 L134.0,126.24 L134.5,126.29 L135.0,126.26 L135.5,126.32 L136.0,126.31 L136.5,126.32 L137.0,126.27 L137.5,126.23 L138.0,126.16 L138.5,126.22 L139.0,126.34 L139.5,126.28 L140.0,126.27 L140.5,126.11 L141.0,126.19 L141.5,126.26 L142.0,126.37 L142.5,126.53 L143.0,126.56 L143.5,126.68 L144.0,126.38 L144.5,126.48 L145.0,126.45 L145.5,126.33 L146.0,126.34 L146.5,126.33 L147.0,126.16 L147.5,126.30 L148.0,126.31 L148.5,126.33 L149.0,126.50 L149.5,126.48 L150.0,126.34 L150.5,126.27 L151.0,126.34 L151.5,126.42 L152.0,126.54 L152.5,126.66 L153.0,126.56 L153.5,126.54 L154.0,126.53 L154.5,126.54 L155.0,126.39 L155.5,126.33 L156.0,126.29 L156.5,126.39 L157.0,126.51 L157.5,126.54 L158.0,126.56 L158.5,126.44 L159.0,126.37 L159.5,126.31 L160.0,126.32 L160.5,126.33 L161.0,126.36 L161.5,126.35 L162.0,126.37 L162.5,126.24 L163.0,126.27 L163.5,126.29 L164.0,126.48 L164.5,126.55 L165.0,126.59 L165.5,126.74 L166.0,126.74 L166.5,126.68 L167.0,126.71 L167.5,126.66 L168.0,126.55 L168.5,126.44 L169.0,126.37 L169.5,126.27 L170.0,126.41 L170.5,126.67 L171.0,126.53 L171.5,126.48 L172.0,126.46 L172.5,126.34 L173.0,126.35 L173.5,126.50 L174.0,126.60 L174.5,126.61 L175.0,126.51 L175.5,126.38 L176.0,126.45 L176.5,126.33 L177.0,126.38 L177.5,126.40 L178.0,126.39 L178.5,126.32 L179.0,126.14 L179.5,126.26 L180.0,126.43 L180.5,126.61 L181.0,126.67 L181.5,126.54 L182.0,126.51 L182.5,126.48 L183.0,126.45 L183.5,126.53 L184.0,126.56 L184.5,126.54 L185.0,126.58 L185.5,126.67 L186.0,126.53 L186.5,126.52 L187.0,126.61 L187.5,126.52 L188.0,126.47 L188.5,126.52 L189.0,126.53 L189.5,126.53 L190.0,126.47 L190.5,126.37 L191.0,126.46 L191.5,126.54 L192.0,126.59 L192.5,126.75 L193.0,126.81 L193.5,126.78 L194.0,126.60 L194.5,126.50 L195.0,126.44 L195.5,126.30 L196.0,126.39 L196.5,126.19 L197.0,126.21 L197.5,126.16 L198.0,126.21 L198.5,126.57 L199.0,126.49 L199.5,126.64 L200.0,126.52 L200.5,126.41 L201.0,126.66 L201.5,126.57 L202.0,126.55 L202.5,126.73 L203.0,126.65 L203.5,126.62 L204.0,126.73 L204.5,126.77 L205.0,126.79 L205.5,126.77 L206.0,126.78 L206.5,126.65 L207.0,126.77 L207.5,126.87 L208.0,126.69 L208.5,126.82 L209.0,126.89 L209.5,126.81 L210.0,126.89 L210.5,126.90 L211.0,126.95 L211.5,127.03 L212.0,127.00 L212.5,127.02 L213.0,127.06 L213.5,127.14 L214.0,127.21 L214.5,127.10 L215.0,127.10 L215.5,126.90 L216.0,126.92 L216.5,126.89 L217.0,126.75 L217.5,126.75 L218.0,126.94 L218.5,126.96 L219.0,127.02 L219.5,126.96 L220.0,126.84 L220.5,127.10 L221.0,126.98 L221.5,127.11 L222.0,127.15 L222.5,126.84 L223.0,126.79 L223.5,126.79 L224.0,126.89 L224.5,127.17 L225.0,127.09 L225.5,127.09 L226.0,126.84 L226.5,126.65 L227.0,126.67 L227.5,126.72 L228.0,126.90 L228.5,126.83 L229.0,126.87 L229.5,126.84 L230.0,126.69 L230.5,126.51 L231.0,126.39 L231.5,126.45 L232.0,126.47 L232.5,126.32 L233.0,126.26 L233.5,126.28 L234.0,126.26 L234.5,126.23 L235.0,126.18 L235.5,126.05 L236.0,126.06 L236.5,126.04 L237.0,125.90 L237.5,125.71 L238.0,125.68 L238.5,125.72 L239.0,125.85 L239.5,125.97 L240.0,125.99 L240.5,125.96 L241.0,125.92 L241.5,125.86 L242.0,125.69 L242.5,125.81 L243.0,125.78 L243.5,125.74 L244.0,125.67 L244.5,125.73 L245.0,125.78 L245.5,125.71 L246.0,125.64 L246.5,125.57 L247.0,125.72 L247.5,125.68 L248.0,125.74 L248.5,125.69 L249.0,125.62 L249.5,125.75 L250.0,125.76 L250.5,125.76 L251.0,125.60 L251.5,125.53 L252.0,125.32 L252.5,125.37 L253.0,125.35 L253.5,125.43 L254.0,125.53 L254.5,125.61 L255.0,125.71 L255.5,125.73 L256.0,125.92 L256.5,126.04 L257.0,125.99 L257.5,126.04 L258.0,126.10 L258.5,126.16 L259.0,126.15 L259.5,125.95 L260.0,125.93 L260.5,125.88 L261.0,125.79 L261.5,125.95 L262.0,126.06 L262.5,126.11 L263.0,126.19 L263.5,126.32 L264.0,126.26 L264.5,126.40 L265.0,126.37 L265.5,126.24 L266.0,126.20 L266.5,126.10 L267.0,126.16 L267.5,126.28 L268.0,126.45 L268.5,126.43 L269.0,126.53 L269.5,126.53 L270.0,126.30 L270.5,126.29 L271.0,126.26 L271.5,126.10 L272.0,126.27 L272.5,126.17 L273.0,125.97 L273.5,126.04 L274.0,126.08 L274.5,125.99 L275.0,126.03 L275.5,125.96 L276.0,125.95 L276.5,126.06 L277.0,126.08 L277.5,126.24 L278.0,126.20 L278.5,126.12 L279.0,126.00 L279.5,125.93 L280.0,125.89 L280.5,125.80 L281.0,125.95 L281.5,126.04 L282.0,126.22 L282.5,126.29 L283.0,126.47 L283.5,126.50 L284.0,126.34 L284.5,126.45 L285.0,126.44 L285.5,126.42 L286.0,126.34 L286.5,126.03 L287.0,125.92 L287.5,125.99 L288.0,126.00 L288.5,126.08 L289.0,126.01 L289.5,126.07 L290.0,126.10 L290.5,126.19 L291.0,126.49 L291.5,126.57 L292.0,126.57 L292.5,126.53 L293.0,126.36 L293.5,126.23 L294.0,126.16 L294.5,126.24 L295.0,126.27 L295.5,126.29 L296.0,126.30 L296.5,126.25 L297.0,126.22 L297.5,126.21 L298.0,126.03 L298.5,126.04 L299.0,126.14 L299.5,126.09 L300.0,126.34 L300.5,126.41 L301.0,126.36 L301.5,126.32 L302.0,126.22 L302.5,126.16 L303.0,126.15 L303.5,126.27 L304.0,126.39 L304.5,126.49 L305.0,126.38 L305.5,126.31 L306.0,126.28 L306.5,126.26 L307.0,126.23 L307.5,126.25 L308.0,126.25 L308.5,126.28 L309.0,126.45 L309.5,126.44 L310.0,126.56 L310.5,126.42 L311.0,126.43 L311.5,126.41 L312.0,126.31 L312.5,126.29 L313.0,126.18 L313.5,126.16 L314.0,126.28 L314.5,126.21 L315.0,126.36 L315.5,126.41 L316.0,126.51 L316.5,126.44 L317.0,126.53 L317.5,126.32 L318.0,126.28 L318.5,126.24 L319.0,126.31 L319.5,126.31 L320.0,126.44 L320.5,126.46 L321.0,126.22 L321.5,126.14 L322.0,126.14 L322.5,126.11 L323.0,126.22 L323.5,126.18 L324.0,126.23 L324.5,126.23 L325.0,126.30 L325.5,126.22 L326.0,126.04 L326.5,126.15 L327.0,126.06 L327.5,126.18 L328.0,126.40 L328.5,126.36 L329.0,126.50 L329.5,126.63 L330.0,126.55 L330.5,126.54 L331.0,126.41 L331.5,126.27 L332.0,126.33 L332.5,126.52 L333.0,126.52 L333.5,126.67 L334.0,126.63 L334.5,126.54 L335.0,126.51 L335.5,126.45 L336.0,126.38 L336.5,126.42 L337.0,126.56 L337.5,126.62 L338.0,126.59 L338.5,126.69 L339.0,126.64 L339.5,126.66 L340.0,126.71 L340.5,126.52 L341.0,126.52 L341.5,126.44 L342.0,126.47 L342.5,126.52 L343.0,126.51 L343.5,126.62 L344.0,126.47 L344.5,126.71 L345.0,126.72 L345.5,126.52 L346.0,126.43 L346.5,126.39 L347.0,126.22 L347.5,126.40 L348.0,126.27 L348.5,126.32 L349.0,126.34 L349.5,126.36 L350.0,126.42 L350.5,126.36 L351.0,126.34 L351.5,126.31 L352.0,126.13 L352.5,126.24 L353.0,126.18 L353.5,126.21 L354.0,126.37 L354.5,126.24 L355.0,126.18 L355.5,126.38 L356.0,126.46 L356.5,126.38 L357.0,126.44 L357.5,126.28 L358.0,126.26 L358.5,126.29 L359.0,126.32 L359.5,126.02 L360.0,126.03 L360.5,125.96 L361.0,125.96 L361.5,126.12 L362.0,126.22 L362.5,126.20 L363.0,126.06 L363.5,125.97 L364.0,125.99 L364.5,126.10 L365.0,126.31 L365.5,126.25 L366.0,126.17 L366.5,126.05 L367.0,125.91 L367.5,125.86 L368.0,125.96 L368.5,126.10 L369.0,126.10 L369.5,126.13 L370.0,126.00 L370.5,125.98 L371.0,126.00 L371.5,125.95 L372.0,126.00 L372.5,126.09 L373.0,126.08 L373.5,126.07 L374.0,126.03 L374.5,125.90 L375.0,125.82 L375.5,125.83 L376.0,125.85 L376.5,125.90 L377.0,125.90 L377.5,125.96 L378.0,126.05 L378.5,125.96 L379.0,126.08 L379.5,126.10 L380.0,125.95 L380.5,126.02 L381.0,126.02 L381.5,126.05 L382.0,126.10 L382.5,126.13 L383.0,126.13 L383.5,126.12 L384.0,126.03 L384.5,125.83 L385.0,125.89 L385.5,125.85 L386.0,125.93 L386.5,125.94 L387.0,126.02 L387.5,125.99 L388.0,125.94 L388.5,125.81 L389.0,125.75 L389.5,125.94 L390.0,125.94 L390.5,125.95 L391.0,125.94 L391.5,125.98 L392.0,125.93 L392.5,125.94 L393.0,125.96 L393.5,126.04 L394.0,125.86 L394.5,125.70 L395.0,125.74 L395.5,125.67 L396.0,125.77 L396.5,125.80 L397.0,125.87 L397.5,125.97 L398.0,125.78 L398.5,125.62 L399.0,125.48 L399.5,125.41 L400.0,125.32 L400.5,125.35 L401.0,125.26 L401.5,125.36 L402.0,125.39 L402.5,125.35 L403.0,125.36 L403.5,125.49 L404.0,125.50 L404.5,125.67 L405.0,125.61 L405.5,125.68 L406.0,125.62 L406.5,125.51 L407.0,125.53 L407.5,125.51 L408.0,125.66 L408.5,125.80 L409.0,125.79 L409.5,125.72 L410.0,125.86 L410.5,125.96 L411.0,126.02 L411.5,126.04 L412.0,126.09 L412.5,125.92 L413.0,125.89 L413.5,125.94 L414.0,125.87 L414.5,126.13 L415.0,126.28 L415.5,126.44 L416.0,126.48 L416.5,126.39 L417.0,126.25 L417.5,126.30 L418.0,126.18 L418.5,126.19 L419.0,126.17 L419.5,126.11 L420.0,126.15 L420.5,126.17 L421.0,126.23 L421.5,126.28 L422.0,126.27 L422.5,126.36 L423.0,126.40 L423.5,126.49 L424.0,126.59 L424.5,126.70 L425.0,126.76 L425.5,126.59 L426.0,126.43 L426.5,126.46 L427.0,126.43 L427.5,126.42 L428.0,126.51 L428.5,126.29 L429.0,126.47 L429.5,126.62 L430.0,126.62 L430.5,126.72 L431.0,126.85 L431.5,126.73 L432.0,126.66 L432.5,126.48 L433.0,126.53 L433.5,126.35 L434.0,126.41 L434.5,126.48 L435.0,126.53 L435.5,126.53 L436.0,126.64 L436.5,126.73 L437.0,126.79 L437.5,126.65 L438.0,126.50 L438.5,126.50 L439.0,126.39 L439.5,126.64 L440.0,126.67 L440.5,126.73 L441.0,126.72 L441.5,126.71 L442.0,126.69 L442.5,126.63 L443.0,126.67 L443.5,126.67 L444.0,126.62 L444.5,126.66 L445.0,126.60 L445.5,126.45 L446.0,126.42 L446.5,126.56 L447.0,126.63 L447.5,126.67 L448.0,126.77 L448.5,126.82 L449.0,126.84 L449.5,126.71 L450.0,126.61 L450.5,126.57 L451.0,126.47 L451.5,126.53 L452.0,126.68 L452.5,126.64 L453.0,126.73 L453.5,126.57 L454.0,126.61 L454.5,126.51 L455.0,126.43 L455.5,126.53 L456.0,126.63 L456.5,126.58 L457.0,126.36 L457.5,126.29 L458.0,126.52 L458.5,126.80 L459.0,126.90 L459.5,126.99 L460.0,127.02 L460.5,127.01 L461.0,126.97 L461.5,127.00 L462.0,126.93 L462.5,126.82 L463.0,126.66 L463.5,126.75 L464.0,126.69 L464.5,126.70 L465.0,126.69 L465.5,126.67 L466.0,126.68 L466.5,126.63 L467.0,126.58 L467.5,126.60 L468.0,126.63 L468.5,126.69 L469.0,126.66 L469.5,126.56 L470.0,126.57 L470.5,126.59 L471.0,126.68 L471.5,126.67 L472.0,126.66 L472.5,126.42 L473.0,126.31 L473.5,126.15 L474.0,126.26 L474.5,126.25 L475.0,126.33 L475.5,126.25 L476.0,126.13 L476.5,126.07 L477.0,125.99 L477.5,126.05 L478.0,126.06 L478.5,126.13 L479.0,126.03 L479.5,126.28 L480.0,126.33 L480.5,126.36 L481.0,126.53 L481.5,126.36 L482.0,126.27 L482.5,126.44 L483.0,126.53 L483.5,126.66 L484.0,126.65 L484.5,126.54 L485.0,126.50 L485.5,126.43 L486.0,126.35 L486.5,126.35 L487.0,126.19 L487.5,126.21 L488.0,126.19 L488.5,126.16 L489.0,126.08 L489.5,126.02 L490.0,126.12 L490.5,126.04 L491.0,126.08 L491.5,125.97 L492.0,125.97 L492.5,126.11 L493.0,126.26 L493.5,126.30 L494.0,126.35 L494.5,126.27 L495.0,126.20 L495.5,126.23 L496.0,126.21 L496.5,126.28 L497.0,126.25 L497.5,126.28 L498.0,126.40 L498.5,126.34 L499.0,126.36 L499.5,126.21 L500.0,125.92 L500.5,125.90 L501.0,125.93 L501.5,126.06 L502.0,126.05 L502.5,126.17 L503.0,126.22 L503.5,126.31 L504.0,126.52 L504.5,126.50 L505.0,126.68 L505.5,126.76 L506.0,126.77 L506.5,126.73 L507.0,126.58 L507.5,126.42 L508.0,126.30 L508.5,126.35 L509.0,126.35 L509.5,126.26 L510.0,126.36 L510.5,126.21 L511.0,126.09 L511.5,126.18 L512.0,126.17 L512.5,126.08 L513.0,126.10 L513.5,126.16 L514.0,126.14 L514.5,126.09 L515.0,126.08 L515.5,126.18 L516.0,126.14 L516.5,126.31 L517.0,126.39 L517.5,126.25 L518.0,126.27 L518.5,126.14 L519.0,126.21 L519.5,126.20 L520.0,126.18 L520.5,125.93 L521.0,125.80 L521.5,125.80 L522.0,125.81 L522.5,125.96 L523.0,125.99 L523.5,126.04 L524.0,126.07 L524.5,126.10 L525.0,126.07 L525.5,126.00 L526.0,126.03 L526.5,126.02 L527.0,125.99 L527.5,125.96 L528.0,126.01 L528.5,126.02 L529.0,126.13 L529.5,126.17 L530.0,126.19 L530.5,126.30 L531.0,126.23 L531.5,126.16 L532.0,126.19 L532.5,126.19 L533.0,126.21 L533.5,126.31 L534.0,126.29 L534.5,126.33 L535.0,126.26 L535.5,126.38 L536.0,126.22 L536.5,126.08 L537.0,126.07 L537.5,126.02 L538.0,126.09 L538.5,126.08 L539.0,126.04 L539.5,126.01 L540.0,125.98 L540.5,126.14 L541.0,126.25 L541.5,126.21" stroke="#0870CC"/>
<path d="M48.5,174.30 L49.0,174.32 L49.5,174.33 L50.0,174.34 L50.5,174.35 L51.0,174.36 L51.5,174.36 L52.0,174.37 L52.5,174.38 L53.0,174.39 L53.5,174.40 L54.0,174.40 L54.5,174.41 L55.0,174.42 L55.5,174.42 L56.0,174.43 L56.5,174.44 L57.0,174.44 L57.5,174.45 L58.0,174.45 L58.5,174.46 L59.0,174.46 L59.5,174.46 L60.0,174.47 L60.5,174.47 L61.0,174.47 L61.5,174.48 L62.0,174.48 L62.5,174.48 L63.0,174.49 L63.5,174.49 L64.0,174.49 L64.5,174.49 L65.0,174.49 L65.5,174.49 L66.0,174.50 L66.5,174.50 L67.0,174.50 L67.5,174.50 L68.0,174.50 L68.5,174.50 L69.0,174.50 L69.5,174.50 L70.0,174.50 L70.5,174.50 L71.0,174.50 L71.5,174.50 L72.0,174.49 L72.5,174.49 L73.0,174.49 L73.5,174.48 L74.0,174.48 L74.5,174.47 L75.0,174.47 L75.5,174.46 L76.0,174.46 L76.5,174.45 L77.0,174.44 L77.5,174.44 L78.0,174.43 L78.5,174.42 L79.0,174.41 L79.5,174.40 L80.0,174.39 L80.5,174.38 L81.0,174.38 L81.5,174.37 L82.0,174.36 L82.5,174.35 L83.0,174.34 L83.5,174.33 L84.0,174.32 L84.5,174.31 L85.0,174.30 L85.5,174.29 L86.0,174.28 L86.5,174.28 L87.0,174.27 L87.5,174.27 L88.0,174.26 L88.5,174.25 L89.0,174.24 L89.5,174.23 L90.0,174.21 L90.5,174.19 L91.0,174.17 L91.5,174.15 L92.0,174.11 L92.5,173.65 L93.0,171.73 L93.5,169.73 L94.0,167.55 L94.5,165.16 L95.0,162.77 L95.5,160.59 L96.0,158.80 L96.5,157.34 L97.0,155.97 L97.5,154.70 L98.0,153.51 L98.5,152.40 L99.0,151.35 L99.5,150.35 L100.0,149.40 L100.5,148.49 L101.0,147.62 L101.5,146.76 L102.0,145.93 L102.5,145.12 L103.0,144.34 L103.5,143.59 L104.0,142.88 L104.5,142.19 L105.0,141.54 L105.5,140.92 L106.0,140.34 L106.5,139.80 L107.0,139.30 L107.5,138.81 L108.0,138.35 L108.5,137.92 L109.0,137.50 L109.5,137.10 L110.0,136.71 L110.5,136.35 L111.0,136.00 L111.5,135.66 L112.0,135.34 L112.5,135.02 L113.0,134.72 L113.5,134.43 L114.0,134.15 L114.5,133.88 L115.0,133.62 L115.5,133.37 L116.0,133.13 L116.5,132.91 L117.0,132.69 L117.5,132.47 L118.0,132.27 L118.5,132.07 L119.0,131.88 L119.5,131.69 L120.0,131.52 L120.5,131.34 L121.0,131.18 L121.5,131.02 L122.0,130.87 L122.5,130.73 L123.0,130.59 L123.5,130.46 L124.0,130.32 L124.5,130.19 L125.0,130.06 L125.5,129.94 L126.0,129.81 L126.5,129.69 L127.0,129.58 L127.5,129.46 L128.0,129.35 L128.5,129.24 L129.0,129.14 L129.5,129.03 L130.0,128.94 L130.5,128.84 L131.0,128.75 L131.5,128.66 L132.0,128.58 L132.5,128.50 L133.0,128.43 L133.5,128.36 L134.0,128.29 L134.5,128.22 L135.0,128.15 L135.5,128.08 L136.0,128.01 L136.5,127.94 L137.0,127.87 L137.5,127.81 L138.0,127.75 L138.5,127.69 L139.0,127.63 L139.5,127.58 L140.0,127.53 L140.5,127.48 L141.0,127.44 L141.5,127.40 L142.0,127.37 L142.5,127.34 L143.0,127.32 L143.5,127.31 L144.0,127.30 L144.5,127.29 L145.0,127.28 L145.5,127.28 L146.0,127.27 L146.5,127.26 L147.0,127.26 L147.5,127.25 L148.0,127.25 L148.5,127.25 L149.0,127.24 L149.5,127.24 L150.0,127.24 L150.5,127.23 L151.0,127.28 L151.5,127.25 L152.0,127.26 L152.5,127.26 L153.0,127.25 L153.5,127.25 L154.0,127.27 L154.5,127.25 L155.0,127.23 L155.5,127.22 L156.0,127.18 L156.5,127.17 L157.0,127.18 L157.5,127.21 L158.0,127.12 L158.5,127.11 L159.0,127.14 L159.5,127.09 L160.0,126.99 L160.5,126.97 L161.0,126.92 L161.5,126.94 L162.0,126.95 L162.5,126.99 L163.0,126.91 L163.5,126.94 L164.0,126.97 L164.5,127.04 L165.0,127.07 L165.5,127.06 L166.0,127.06 L166.5,127.07 L167.0,127.12 L167.5,127.17 L168.0,127.14 L168.5,127.15 L169.0,127.10 L169.5,127.11 L170.0,127.19 L170.5,127.22 L171.0,127.22 L171.5,127.18 L172.0,127.29 L172.5,127.23 L173.0,127.20 L173.5,127.19 L174.0,127.22 L174.5,127.19 L175.0,127.21 L175.5,127.25 L176.0,127.29 L176.5,127.16 L177.0,127.23 L177.5,127.19 L178.0,127.14 L178.5,127.12 L179.0,127.07 L179.5,127.10 L180.0,127.19 L180.5,127.21 L181.0,127.20 L181.5,127.19 L182.0,127.17 L182.5,127.23 L183.0,127.18 L183.5,127.27 L184.0,127.21 L184.5,127.24 L185.0,127.28 L185.5,127.34 L186.0,127.37 L186.5,127.38 L187.0,127.41 L187.5,127.44 L188.0,127.37 L188.5,127.40 L189.0,127.39 L189.5,127.45 L190.0,127.48 L190.5,127.55 L191.0,127.56 L191.5,127.54 L192.0,127.61 L192.5,127.60 L193.0,127.62 L193.5,127.66 L194.0,127.72 L194.5,127.74 L195.0,127.83 L195.5,127.81 L196.0,127.87 L196.5,127.89 L197.0,127.98 L197.5,127.93 L198.0,127.89 L198.5,127.89 L199.0,127.93 L199.5,127.95 L200.0,127.97 L200.5,128.02 L201.0,128.03 L201.5,128.08 L202.0,128.07 L202.5,128.03 L203.0,128.14 L203.5,128.07 L204.0,127.99 L204.5,128.00 L205.0,128.00 L205.5,127.95 L206.0,127.93 L206.5,127.91 L207.0,127.91 L207.5,127.90 L208.0,127.86 L208.5,127.92 L209.0,127.78 L209.5,127.78 L210.0,127.74 L210.5,127.70 L211.0,127.68 L211.5,127.58 L212.0,127.56 L212.5,127.57 L213.0,127.58 L213.5,127.44 L214.0,127.39 L214.5,127.32 L215.0,127.20 L215.5,127.25 L216.0,127.25 L216.5,127.22 L217.0,127.19 L217.5,127.18 L218.0,127.14 L218.5,127.07 L219.0,127.02 L219.5,127.04 L220.0,127.03 L220.5,126.95 L221.0,126.94 L221.5,126.97 L222.0,126.99 L222.5,126.94 L223.0,126.92 L223.5,126.97 L224.0,126.93 L224.5,126.84 L225.0,126.82 L225.5,126.85 L226.0,126.83 L226.5,126.86 L227.0,126.91 L227.5,126.84 L228.0,126.79 L228.5,126.77 L229.0,126.80 L229.5,126.83 L230.0,126.87 L230.5,126.88 L231.0,126.84 L231.5,126.78 L232.0,126.71 L232.5,126.72 L233.0,126.74 L233.5,126.67 L234.0,126.68 L234.5,126.80 L235.0,126.73 L235.5,126.72 L236.0,126.78 L236.5,126.81 L237.0,126.75 L237.5,126.82 L238.0,126.89 L238.5,126.95 L239.0,126.92 L239.5,126.91 L240.0,126.93 L240.5,126.96 L241.0,127.00 L241.5,127.00 L242.0,126.94 L242.5,126.88 L243.0,126.93 L243.5,126.98 L244.0,127.07 L244.5,127.12 L245.0,127.11 L245.5,127.08 L246.0,127.12 L246.5,127.09 L247.0,127.14 L247.5,127.15 L248.0,127.21 L248.5,127.23 L249.0,127.31 L249.5,127.26 L250.0,127.30 L250.5,127.24 L251.0,127.30 L251.5,127.34 L252.0,127.36 L252.5,127.34 L253.0,127.29 L253.5,127.23 L254.0,127.27 L254.5,127.32 L255.0,127.27 L255.5,127.25 L256.0,127.28 L256.5,127.23 L257.0,127.23 L257.5,127.25 L258.0,127.19 L258.5,127.23 L259.0,127.21 L259.5,127.22 L260.0,127.14 L260.5,127.11 L261.0,127.04 L261.5,127.08 L262.0,127.01 L262.5,127.05 L263.0,127.08 L263.5,127.06 L264.0,127.01 L264.5,126.95 L265.0,126.99 L265.5,126.97 L266.0,126.94 L266.5,126.93 L267.0,127.00 L267.5,127.02 L268.0,127.00 L268.5,126.96 L269.0,126.98 L269.5,127.02 L270.0,127.03 L270.5,127.01 L271.0,127.11 L271.5,127.11 L272.0,127.15 L272.5,127.19 L273.0,127.21 L273.5,127.17 L274.0,127.20 L274.5,127.12 L275.0,127.05 L275.5,127.10 L276.0,127.14 L276.5,127.21 L277.0,127.15 L277.5,127.18 L278.0,127.22 L278.5,127.29 L279.0,127.27 L279.5,127.26 L280.0,127.23 L280.5,127.30 L281.0,127.33 L281.5,127.37 L282.0,127.37 L282.5,127.39 L283.0,127.33 L283.5,127.27 L284.0,127.21 L284.5,127.26 L285.0,127.26 L285.5,127.27 L286.0,127.36 L286.5,127.38 L287.0,127.41 L287.5,127.37 L288.0,127.37 L288.5,127.39 L289.0,127.44 L289.5,127.52 L290.0,127.49 L290.5,127.42 L291.0,127.37 L291.5,127.37 L292.0,127.36 L292.5,127.34 L293.0,127.32 L293.5,127.29 L294.0,127.27 L294.5,127.24 L295.0,127.23 L295.5,127.24 L296.0,127.26 L296.5,127.21 L297.0,127.22 L297.5,127.15 L298.0,127.09 L298.5,127.11 L299.0,127.10 L299.5,127.13 L300.0,127.08 L300.5,127.06 L301.0,127.06 L301.5,126.96 L302.0,126.99 L302.5,126.98 L303.0,126.97 L303.5,126.97 L304.0,127.00 L304.5,126.99 L305.0,127.00 L305.5,127.02 L306.0,127.00 L306.5,126.99 L307.0,126.98 L307.5,126.98 L308.0,126.99 L308.5,126.95 L309.0,126.95 L309.5,127.02 L310.0,126.96 L310.5,126.93 L311.0,126.88 L311.5,126.87 L312.0,126.97 L312.5,126.94 L313.0,126.90 L313.5,126.91 L314.0,126.90 L314.5,126.93 L315.0,126.98 L315.5,126.97 L316.0,126.91 L316.5,126.95 L317.0,126.95 L317.5,126.93 L318.0,126.96 L318.5,126.97 L319.0,127.02 L319.5,127.04 L320.0,127.11 L320.5,127.20 L321.0,127.23 L321.5,127.22 L322.0,127.28 L322.5,127.33 L323.0,127.41 L323.5,127.42 L324.0,127.35 L324.5,127.36 L325.0,127.40 L325.5,127.47 L326.0,127.47 L326.5,127.45 L327.0,127.45 L327.5,127.48 L328.0,127.52 L328.5,127.49 L329.0,127.51 L329.5,127.53 L330.0,127.50 L330.5,127.50 L331.0,127.48 L331.5,127.47 L332.0,127.43 L332.5,127.42 L333.0,127.37 L333.5,127.46 L334.0,127.45 L334.5,127.49 L335.0,127.49 L335.5,127.43 L336.0,127.42 L336.5,127.46 L337.0,127.48 L337.5,127.47 L338.0,127.41 L338.5,127.41 L339.0,127.43 L339.5,127.44 L340.0,127.47 L340.5,127.44 L341.0,127.42 L341.5,127.39 L342.0,127.41 L342.5,127.45 L343.0,127.48 L343.5,127.54 L344.0,127.48 L344.5,127.41 L345.0,127.38 L345.5,127.30 L346.0,127.28 L346.5,127.19 L347.0,127.17 L347.5,127.23 L348.0,127.26 L348.5,127.26 L349.0,127.20 L349.5,127.15 L350.0,127.25 L350.5,127.25 L351.0,127.26 L351.5,127.19 L352.0,127.10 L352.5,127.16 L353.0,127.13 L353.5,127.10 L354.0,127.14 L354.5,127.05 L355.0,127.00 L355.5,126.99 L356.0,127.08 L356.5,127.08 L357.0,127.13 L357.5,127.11 L358.0,127.14 L358.5,127.16 L359.0,127.18 L359.5,127.13 L360.0,127.15 L360.5,127.17 L361.0,127.21 L361.5,127.23 L362.0,127.15 L362.5,127.09 L363.0,127.07 L363.5,127.09 L364.0,127.14 L364.5,127.05 L365.0,127.02 L365.5,127.01 L366.0,127.00 L366.5,127.07 L367.0,127.07 L367.5,126.95 L368.0,126.78 L368.5,126.77 L369.0,126.75 L369.5,126.78 L370.0,126.68 L370.5,126.70 L371.0,126.61 L371.5,126.64 L372.0,126.57 L372.5,126.49 L373.0,126.42 L373.5,126.40 L374.0,126.37 L374.5,126.38 L375.0,126.35 L375.5,126.28 L376.0,126.26 L376.5,126.29 L377.0,126.32 L377.5,126.38 L378.0,126.32 L378.5,126.34 L379.0,126.28 L379.5,126.32 L380.0,126.44 L380.5,126.39 L381.0,126.41 L381.5,126.41 L382.0,126.43 L382.5,126.48 L383.0,126.60 L383.5,126.63 L384.0,126.69 L384.5,126.78 L385.0,126.87 L385.5,126.91 L386.0,126.98 L386.5,127.12 L387.0,127.16 L387.5,127.24 L388.0,127.27 L388.5,127.24 L389.0,127.28 L389.5,127.29 L390.0,127.34 L390.5,127.32 L391.0,127.44 L391.5,127.50 L392.0,127.51 L392.5,127.61 L393.0,127.62 L393.5,127.63 L394.0,127.66 L394.5,127.66 L395.0,127.61 L395.5,127.61 L396.0,127.68 L396.5,127.68 L397.0,127.61 L397.5,127.59 L398.0,127.60 L398.5,127.51 L399.0,127.54 L399.5,127.57 L400.0,127.62 L400.5,127.74 L401.0,127.77 L401.5,127.70 L402.0,127.65 L402.5,127.62 L403.0,127.60 L403.5,127.59 L404.0,127.64 L404.5,127.68 L405.0,127.72 L405.5,127.69 L406.0,127.70 L406.5,127.69 L407.0,127.63 L407.5,127.60 L408.0,127.59 L408.5,127.62 L409.0,127.59 L409.5,127.61 L410.0,127.57 L410.5,127.51 L411.0,127.43 L411.5,127.42 L412.0,127.40 L412.5,127.37 L413.0,127.37 L413.5,127.39 L414.0,127.42 L414.5,127.49 L415.0,127.49 L415.5,127.45 L416.0,127.35 L416.5,127.30 L417.0,127.26 L417.5,127.29 L418.0,127.28 L418.5,127.25 L419.0,127.26 L419.5,127.28 L420.0,127.20 L420.5,127.09 L421.0,127.15 L421.5,127.13 L422.0,127.14 L422.5,127.22 L423.0,127.27 L423.5,127.31 L424.0,127.35 L424.5,127.34 L425.0,127.30 L425.5,127.31 L426.0,127.29 L426.5,127.30 L427.0,127.30 L427.5,127.32 L428.0,127.43 L428.5,127.46 L429.0,127.49 L429.5,127.47 L430.0,127.42 L430.5,127.44 L431.0,127.45 L431.5,127.42 L432.0,127.47 L432.5,127.54 L433.0,127.51 L433.5,127.55 L434.0,127.60 L434.5,127.59 L435.0,127.57 L435.5,127.57 L436.0,127.51 L436.5,127.57 L437.0,127.58 L437.5,127.60 L438.0,127.69 L438.5,127.62 L439.0,127.62 L439.5,127.65 L440.0,127.63 L440.5,127.61 L441.0,127.54 L441.5,127.50 L442.0,127.52 L442.5,127.46 L443.0,127.48 L443.5,127.51 L444.0,127.48 L444.5,127.45 L445.0,127.46 L445.5,127.46 L446.0,127.44 L446.5,127.51 L447.0,127.52 L447.5,127.46 L448.0,127.46 L448.5,127.39 L449.0,127.41 L449.5,127.38 L450.0,127.40 L450.5,127.37 L451.0,127.35 L451.5,127.36 L452.0,127.34 L452.5,127.36 L453.0,127.36 L453.5,127.44 L454.0,127.51 L454.5,127.60 L455.0,127.60 L455.5,127.61 L456.0,127.57 L456.5,127.59 L457.0,127.57 L457.5,127.59 L458.0,127.64 L458.5,127.54 L459.0,127.55 L459.5,127.54 L460.0,127.53 L460.5,127.49 L461.0,127.45 L461.5,127.49 L462.0,127.47 L462.5,127.56 L463.0,127.56 L463.5,127.55 L464.0,127.53 L464.5,127.47 L465.0,127.50 L465.5,127.49 L466.0,127.49 L466.5,127.38 L467.0,127.39 L467.5,127.37 L468.0,127.44 L468.5,127.42 L469.0,127.41 L469.5,127.35 L470.0,127.28 L470.5,127.30 L471.0,127.29 L471.5,127.25 L472.0,127.30 L472.5,127.27 L473.0,127.30 L473.5,127.26 L474.0,127.18 L474.5,127.16 L475.0,127.14 L475.5,127.08 L476.0,127.04 L476.5,127.06 L477.0,127.06 L477.5,127.05 L478.0,127.04 L478.5,127.07 L479.0,127.00 L479.5,126.97 L480.0,126.90 L480.5,126.86 L481.0,126.86 L481.5,126.89 L482.0,126.88 L482.5,126.84 L483.0,126.83 L483.5,126.79 L484.0,126.73 L484.5,126.73 L485.0,126.67 L485.5,126.70 L486.0,126.72 L486.5,126.63 L487.0,126.63 L487.5,126.63 L488.0,126.63 L488.5,126.61 L489.0,126.58 L489.5,126.51 L490.0,126.44 L490.5,126.46 L491.0,126.45 L491.5,126.42 L492.0,126.47 L492.5,126.47 L493.0,126.44 L493.5,126.46 L494.0,126.44 L494.5,126.45 L495.0,126.42 L495.5,126.51 L496.0,126.54 L496.5,126.65 L497.0,126.65 L497.5,126.71 L498.0,126.70 L498.5,126.70 L499.0,126.71 L499.5,126.66 L500.0,126.66 L500.5,126.66 L501.0,126.69 L501.5,126.77 L502.0,126.83 L502.5,126.82 L503.0,126.86 L503.5,126.88 L504.0,126.91 L504.5,126.96 L505.0,127.03 L505.5,127.01 L506.0,127.01 L506.5,127.01 L507.0,127.02 L507.5,127.00 L508.0,127.02 L508.5,126.98 L509.0,127.03 L509.5,126.99 L510.0,127.04 L510.5,127.11 L511.0,127.06 L511.5,127.14 L512.0,127.17 L512.5,127.24 L513.0,127.26 L513.5,127.22 L514.0,127.23 L514.5,127.26 L515.0,127.32 L515.5,127.37 L516.0,127.34 L516.5,127.34 L517.0,127.35 L517.5,127.39 L518.0,127.44 L518.5,127.48 L519.0,127.58 L519.5,127.65 L520.0,127.65 L520.5,127.67 L521.0,127.69 L521.5,127.69 L522.0,127.72 L522.5,127.73 L523.0,127.80 L523.5,127.83 L524.0,127.92 L524.5,127.92 L525.0,127.89 L525.5,127.91 L526.0,127.95 L526.5,128.01 L527.0,127.92 L527.5,127.99 L528.0,128.05 L528.5,128.14 L529.0,128.11 L529.5,128.11 L530.0,128.17 L530.5,128.22 L531.0,128.18 L531.5,128.14 L532.0,128.14 L532.5,128.19 L533.0,128.17 L533.5,128.18 L534.0,128.21 L534.5,128.25 L535.0,128.30 L535.5,128.34 L536.0,128.30 L536.5,128.28 L537.0,128.31 L537.5,128.31 L538.0,128.28 L538.5,128.25 L539.0,128.38 L539.5,128.40 L540.0,128.44 L540.5,128.38 L541.0,128.46 L541.5,128.46" stroke="#F24A0E"/>
</g>
<g font-size="10.5" text-anchor="middle">
<text x="48.5" y="195.7">0</text>
<text x="110.1" y="195.7">10</text>
<text x="171.8" y="195.7">20</text>
<text x="233.4" y="195.7">30</text>
<text x="295.1" y="195.7">40</text>
<text x="356.7" y="195.7">50</text>
<text x="418.3" y="195.7">60</text>
<text x="480.0" y="195.7">70</text>
<text x="541.6" y="195.7">80</text>
</g>
<g font-size="10.5" text-anchor="end">
<text x="43.6" y="118.1">1</text>
<text x="43.6" y="148.3">0.5</text>
<text x="43.6" y="178.4">0</text>
</g>
<text x="295.4" y="211.5" font-size="11.6" text-anchor="middle">Time [s]</text>
<text transform="translate(17.8,146.7) rotate(-90)" font-size="12.2" text-anchor="middle">U<tspan font-size="8.8" dy="6.0">Pitch</tspan><tspan dy="-6.0"> [N.m]</tspan></text>
<clipPath id="c2"><rect x="48.5" y="225.25" width="493.1" height="65.94999999999999"/></clipPath>
<path d="M48.5,225.25H541.6V291.2H48.5ZM110.14,291.2v-5.2M110.14,225.25v5.2M171.78,291.2v-5.2M171.78,225.25v5.2M233.41,291.2v-5.2M233.41,225.25v5.2M295.05,291.2v-5.2M295.05,225.25v5.2M356.69,291.2v-5.2M356.69,225.25v5.2M418.32,291.2v-5.2M418.32,225.25v5.2M479.96,291.2v-5.2M479.96,225.25v5.2M48.5,225.25h5.2M541.6,225.25h-5.2M48.5,250.62h5.2M541.6,250.62h-5.2M48.5,275.98h5.2M541.6,275.98h-5.2" fill="none" stroke="#2e2e2e" stroke-width="0.95"/>
<g clip-path="url(#c2)" fill="none" stroke-linejoin="round" stroke-width="1.45">
<path d="M48.5,276.20 L49.0,276.20 L49.5,276.20 L50.0,276.20 L50.5,276.20 L51.0,276.20 L51.5,276.20 L52.0,276.20 L52.5,276.20 L53.0,276.20 L53.5,276.20 L54.0,276.20 L54.5,276.20 L55.0,276.20 L55.5,276.20 L56.0,276.20 L56.5,276.20 L57.0,276.20 L57.5,276.20 L58.0,276.20 L58.5,276.20 L59.0,276.20 L59.5,276.20 L60.0,276.20 L60.5,276.20 L61.0,276.20 L61.5,276.20 L62.0,276.20 L62.5,276.20 L63.0,276.20 L63.5,276.20 L64.0,276.20 L64.5,276.20 L65.0,276.20 L65.5,276.20 L66.0,276.20 L66.5,276.20 L67.0,276.20 L67.5,276.20 L68.0,276.20 L68.5,276.20 L69.0,276.20 L69.5,276.20 L70.0,276.20 L70.5,276.20 L71.0,276.20 L71.5,276.20 L72.0,276.20 L72.5,276.20 L73.0,276.20 L73.5,276.20 L74.0,276.20 L74.5,276.20 L75.0,276.20 L75.5,276.20 L76.0,276.20 L76.5,276.20 L77.0,276.20 L77.5,276.20 L78.0,276.20 L78.5,276.20 L79.0,276.20 L79.5,276.20 L80.0,276.20 L80.5,276.20 L81.0,276.20 L81.5,276.20 L82.0,276.20 L82.5,276.20 L83.0,276.20 L83.5,276.20 L84.0,276.20 L84.5,276.20 L85.0,276.20 L85.5,276.20 L86.0,276.20 L86.5,276.20 L87.0,276.20 L87.5,276.20 L88.0,276.20 L88.5,276.20 L89.0,276.20 L89.5,276.20 L90.0,276.20 L90.1,276.20 L90.2,276.20 L90.3,276.20 L90.4,276.20 L90.5,276.20 L90.6,276.20 L90.7,276.20 L90.8,276.20 L90.9,276.20 L91.0,276.20 L91.1,276.20 L91.2,276.20 L91.3,276.20 L91.4,276.20 L91.5,276.20 L91.6,276.20 L91.7,276.20 L91.8,276.20 L91.9,274.23 L92.0,272.26 L92.1,270.30 L92.2,268.33 L92.3,266.36 L92.4,264.39 L92.5,262.42 L92.6,260.45 L92.7,258.49 L92.8,256.52 L92.9,254.55 L93.0,252.58 L93.1,250.61 L93.2,248.65 L93.3,246.68 L93.4,244.71 L93.5,242.74 L93.6,240.77 L93.7,238.80 L93.8,236.84 L93.9,234.87 L94.0,232.90 L94.1,232.90 L94.2,232.90 L94.3,233.04 L94.4,233.18 L94.5,233.30 L94.6,233.43 L94.7,233.54 L94.8,233.65 L94.9,233.76 L95.0,233.86 L95.1,233.95 L95.2,234.04 L95.3,234.13 L95.4,234.21 L95.5,234.29 L95.6,234.36 L95.7,234.43 L95.8,234.50 L95.9,234.16 L96.0,234.19 L96.1,234.31 L96.2,234.27 L96.3,234.27 L96.4,234.41 L96.5,234.53 L96.6,234.51 L96.7,234.49 L96.8,234.51 L96.9,234.50 L97.0,234.48 L97.1,234.52 L97.2,234.52 L97.3,234.51 L97.4,234.66 L97.5,234.85 L97.6,235.08 L97.7,235.13 L97.8,234.98 L97.9,234.86 L98.0,234.84 L98.1,234.85 L98.2,234.80 L98.3,234.84 L98.4,234.92 L98.5,234.95 L98.6,235.07 L98.7,235.27 L98.8,235.26 L98.9,235.27 L99.0,235.29 L99.1,235.20 L99.2,235.17 L99.3,235.06 L99.4,235.13 L99.5,235.14 L99.6,235.29 L99.7,235.45 L99.8,235.47 L99.9,235.47 L100.0,235.30 L100.5,235.31 L101.0,235.41 L101.5,235.39 L102.0,235.51 L102.5,235.69 L103.0,235.46 L103.5,235.42 L104.0,235.10 L104.5,235.02 L105.0,235.17 L105.5,235.25 L106.0,235.43 L106.5,235.50 L107.0,235.51 L107.5,235.47 L108.0,235.72 L108.5,235.85 L109.0,235.75 L109.5,235.80 L110.0,235.70 L110.5,235.68 L111.0,235.70 L111.5,235.70 L112.0,235.79 L112.5,235.80 L113.0,235.75 L113.5,235.65 L114.0,235.55 L114.5,235.65 L115.0,235.79 L115.5,235.77 L116.0,235.70 L116.5,235.80 L117.0,235.77 L117.5,235.73 L118.0,235.74 L118.5,235.90 L119.0,235.97 L119.5,236.13 L120.0,236.10 L120.5,235.99 L121.0,236.08 L121.5,236.02 L122.0,236.06 L122.5,236.21 L123.0,236.22 L123.5,236.20 L124.0,236.20 L124.5,236.11 L125.0,236.10 L125.5,236.03 L126.0,235.95 L126.5,235.95 L127.0,235.90 L127.5,236.07 L128.0,235.95 L128.5,235.92 L129.0,235.90 L129.5,235.80 L130.0,235.80 L130.5,235.78 L131.0,235.75 L131.5,235.59 L132.0,235.78 L132.5,235.73 L133.0,235.83 L133.5,235.88 L134.0,235.96 L134.5,235.89 L135.0,235.72 L135.5,235.60 L136.0,235.46 L136.5,235.44 L137.0,235.53 L137.5,235.50 L138.0,235.38 L138.5,235.45 L139.0,235.69 L139.5,235.69 L140.0,235.79 L140.5,235.74 L141.0,235.66 L141.5,235.77 L142.0,235.78 L142.5,235.68 L143.0,235.55 L143.5,235.68 L144.0,235.80 L144.5,235.89 L145.0,236.03 L145.5,235.97 L146.0,236.04 L146.5,235.91 L147.0,235.88 L147.5,235.82 L148.0,235.83 L148.5,235.88 L149.0,235.84 L149.5,235.80 L150.0,235.74 L150.5,235.87 L151.0,235.75 L151.5,235.61 L152.0,235.63 L152.5,235.37 L153.0,235.36 L153.5,235.41 L154.0,235.49 L154.5,235.45 L155.0,235.61 L155.5,235.65 L156.0,235.73 L156.5,235.78 L157.0,235.77 L157.5,235.68 L158.0,235.64 L158.5,235.69 L159.0,235.64 L159.5,235.68 L160.0,235.78 L160.5,235.87 L161.0,235.78 L161.5,235.90 L162.0,235.73 L162.5,235.61 L163.0,235.61 L163.5,235.65 L164.0,235.69 L164.5,235.57 L165.0,235.64 L165.5,235.60 L166.0,235.47 L166.5,235.76 L167.0,235.87 L167.5,235.89 L168.0,235.96 L168.5,235.79 L169.0,235.56 L169.5,235.46 L170.0,235.35 L170.5,235.39 L171.0,235.39 L171.5,235.37 L172.0,235.40 L172.5,235.38 L173.0,235.37 L173.5,235.36 L174.0,235.11 L174.5,234.97 L175.0,234.90 L175.5,234.95 L176.0,235.05 L176.5,235.16 L177.0,235.15 L177.5,235.30 L178.0,235.27 L178.5,235.14 L179.0,235.09 L179.5,234.96 L180.0,235.23 L180.5,235.29 L181.0,235.31 L181.5,235.32 L182.0,235.22 L182.5,235.50 L183.0,235.55 L183.5,235.57 L184.0,235.64 L184.5,235.62 L185.0,235.58 L185.5,235.69 L186.0,235.73 L186.5,235.67 L187.0,235.55 L187.5,235.46 L188.0,235.32 L188.5,235.38 L189.0,235.44 L189.5,235.49 L190.0,235.42 L190.5,235.29 L191.0,235.38 L191.5,235.38 L192.0,235.44 L192.5,235.49 L193.0,235.65 L193.5,235.64 L194.0,235.68 L194.5,235.63 L195.0,235.66 L195.5,235.75 L196.0,235.78 L196.5,235.82 L197.0,235.75 L197.5,235.82 L198.0,235.79 L198.5,235.67 L199.0,235.71 L199.5,235.80 L200.0,235.80 L200.5,235.73 L201.0,235.71 L201.5,235.70 L202.0,235.78 L202.5,235.69 L203.0,235.80 L203.5,235.46 L204.0,235.47 L204.5,235.41 L205.0,235.38 L205.5,235.48 L206.0,235.41 L206.5,235.50 L207.0,235.71 L207.5,235.69 L208.0,235.65 L208.5,235.73 L209.0,235.71 L209.5,235.79 L210.0,235.81 L210.5,235.61 L211.0,235.67 L211.5,235.64 L212.0,235.63 L212.5,235.50 L213.0,235.33 L213.5,235.21 L214.0,235.34 L214.5,235.34 L215.0,235.39 L215.5,235.44 L216.0,235.29 L216.5,235.31 L217.0,235.59 L217.5,235.70 L218.0,235.69 L218.5,235.73 L219.0,235.52 L219.5,235.33 L220.0,235.39 L220.5,235.32 L221.0,235.16 L221.5,235.16 L222.0,235.21 L222.5,235.32 L223.0,235.39 L223.5,235.27 L224.0,235.42 L224.5,235.21 L225.0,235.26 L225.5,235.42 L226.0,235.44 L226.5,235.71 L227.0,235.59 L227.5,235.49 L228.0,235.44 L228.5,235.39 L229.0,235.11 L229.5,235.12 L230.0,235.13 L230.5,235.19 L231.0,235.37 L231.5,235.25 L232.0,235.23 L232.5,235.27 L233.0,235.26 L233.5,235.30 L234.0,235.40 L234.5,235.51 L235.0,235.40 L235.5,235.48 L236.0,235.26 L236.5,235.09 L237.0,235.13 L237.5,235.09 L238.0,235.21 L238.5,235.23 L239.0,235.31 L239.5,235.20 L240.0,234.99 L240.5,235.03 L241.0,234.98 L241.5,235.16 L242.0,235.23 L242.5,235.34 L243.0,235.43 L243.5,235.48 L244.0,235.56 L244.5,235.41 L245.0,235.43 L245.5,235.59 L246.0,235.51 L246.5,235.55 L247.0,235.51 L247.5,235.41 L248.0,235.32 L248.5,235.43 L249.0,235.55 L249.5,235.64 L250.0,235.74 L250.5,235.78 L251.0,235.72 L251.5,235.74 L252.0,235.57 L252.5,235.63 L253.0,235.57 L253.5,235.40 L254.0,235.45 L254.5,235.45 L255.0,235.45 L255.5,235.46 L256.0,235.50 L256.5,235.34 L257.0,235.42 L257.5,235.45 L258.0,235.40 L258.5,235.44 L259.0,235.57 L259.5,235.78 L260.0,235.97 L260.5,236.16 L261.0,235.95 L261.5,235.87 L262.0,235.77 L262.5,235.69 L263.0,235.84 L263.5,235.92 L264.0,236.05 L264.5,236.04 L265.0,235.96 L265.5,235.93 L266.0,235.86 L266.5,235.80 L267.0,235.81 L267.5,235.94 L268.0,235.97 L268.5,236.00 L269.0,236.12 L269.5,236.08 L270.0,236.19 L270.5,236.17 L271.0,236.26 L271.5,236.26 L272.0,236.42 L272.5,236.43 L273.0,236.51 L273.5,236.51 L274.0,236.37 L274.5,236.46 L275.0,236.39 L275.5,236.34 L276.0,236.36 L276.5,236.48 L277.0,236.47 L277.5,236.52 L278.0,236.51 L278.5,236.23 L279.0,236.14 L279.5,236.05 L280.0,236.26 L280.5,236.38 L281.0,236.40 L281.5,236.43 L282.0,236.21 L282.5,236.33 L283.0,236.29 L283.5,236.47 L284.0,236.60 L284.5,236.57 L285.0,236.67 L285.5,236.59 L286.0,236.54 L286.5,236.51 L287.0,236.59 L287.5,236.52 L288.0,236.41 L288.5,236.44 L289.0,236.28 L289.5,236.28 L290.0,236.30 L290.5,236.33 L291.0,236.36 L291.5,236.36 L292.0,236.37 L292.5,236.38 L293.0,236.35 L293.5,236.48 L294.0,236.48 L294.5,236.38 L295.0,236.37 L295.5,236.17 L296.0,236.12 L296.5,236.23 L297.0,236.21 L297.5,236.24 L298.0,236.22 L298.5,236.22 L299.0,236.26 L299.5,236.30 L300.0,236.26 L300.5,236.24 L301.0,236.17 L301.5,236.16 L302.0,236.09 L302.5,236.21 L303.0,236.25 L303.5,236.30 L304.0,236.34 L304.5,236.27 L305.0,236.21 L305.5,236.16 L306.0,236.12 L306.5,236.17 L307.0,236.15 L307.5,236.27 L308.0,236.31 L308.5,236.41 L309.0,236.43 L309.5,236.31 L310.0,236.31 L310.5,236.11 L311.0,236.23 L311.5,236.44 L312.0,236.44 L312.5,236.46 L313.0,236.46 L313.5,236.46 L314.0,236.52 L314.5,236.40 L315.0,236.31 L315.5,236.37 L316.0,236.19 L316.5,236.25 L317.0,236.15 L317.5,236.11 L318.0,236.27 L318.5,236.18 L319.0,236.29 L319.5,236.21 L320.0,236.29 L320.5,236.38 L321.0,236.44 L321.5,236.45 L322.0,236.35 L322.5,236.32 L323.0,236.34 L323.5,236.36 L324.0,236.30 L324.5,236.24 L325.0,236.21 L325.5,236.30 L326.0,236.31 L326.5,236.31 L327.0,236.28 L327.5,236.31 L328.0,236.33 L328.5,236.39 L329.0,236.32 L329.5,236.27 L330.0,236.29 L330.5,236.09 L331.0,236.20 L331.5,236.11 L332.0,236.09 L332.5,235.97 L333.0,235.80 L333.5,235.83 L334.0,235.87 L334.5,235.85 L335.0,235.90 L335.5,235.76 L336.0,235.78 L336.5,235.82 L337.0,235.99 L337.5,235.96 L338.0,235.86 L338.5,235.88 L339.0,235.88 L339.5,235.76 L340.0,235.63 L340.5,235.72 L341.0,235.84 L341.5,235.89 L342.0,235.96 L342.5,235.83 L343.0,235.77 L343.5,235.78 L344.0,235.78 L344.5,235.90 L345.0,235.88 L345.5,235.99 L346.0,236.11 L346.5,236.05 L347.0,236.04 L347.5,235.97 L348.0,235.84 L348.5,235.84 L349.0,235.96 L349.5,236.02 L350.0,235.89 L350.5,235.97 L351.0,235.91 L351.5,235.93 L352.0,236.03 L352.5,235.97 L353.0,236.11 L353.5,236.07 L354.0,236.00 L354.5,236.09 L355.0,235.93 L355.5,235.95 L356.0,235.86 L356.5,235.82 L357.0,235.90 L357.5,235.91 L358.0,235.93 L358.5,235.99 L359.0,236.06 L359.5,235.86 L360.0,235.98 L360.5,236.14 L361.0,236.09 L361.5,236.14 L362.0,236.11 L362.5,236.01 L363.0,236.03 L363.5,236.09 L364.0,236.33 L364.5,236.44 L365.0,236.47 L365.5,236.34 L366.0,236.01 L366.5,236.04 L367.0,235.78 L367.5,235.85 L368.0,236.08 L368.5,236.15 L369.0,236.24 L369.5,236.33 L370.0,236.25 L370.5,236.14 L371.0,236.15 L371.5,236.12 L372.0,236.18 L372.5,236.12 L373.0,235.96 L373.5,235.88 L374.0,235.92 L374.5,236.08 L375.0,236.17 L375.5,236.06 L376.0,236.16 L376.5,236.18 L377.0,236.18 L377.5,236.19 L378.0,236.38 L378.5,236.28 L379.0,236.24 L379.5,236.19 L380.0,236.17 L380.5,236.18 L381.0,236.32 L381.5,236.26 L382.0,236.14 L382.5,236.13 L383.0,236.07 L383.5,236.18 L384.0,236.21 L384.5,235.93 L385.0,235.97 L385.5,236.02 L386.0,236.07 L386.5,236.11 L387.0,235.97 L387.5,235.85 L388.0,235.89 L388.5,235.85 L389.0,235.88 L389.5,236.04 L390.0,236.04 L390.5,235.98 L391.0,236.07 L391.5,235.89 L392.0,235.82 L392.5,235.85 L393.0,235.65 L393.5,235.73 L394.0,235.82 L394.5,235.89 L395.0,236.01 L395.5,235.87 L396.0,235.89 L396.5,235.93 L397.0,236.05 L397.5,236.28 L398.0,236.29 L398.5,236.21 L399.0,236.32 L399.5,236.22 L400.0,236.28 L400.5,236.29 L401.0,236.04 L401.5,236.10 L402.0,236.00 L402.5,235.97 L403.0,236.06 L403.5,236.04 L404.0,235.98 L404.5,235.88 L405.0,235.80 L405.5,235.78 L406.0,235.85 L406.5,235.72 L407.0,235.60 L407.5,235.84 L408.0,235.63 L408.5,235.86 L409.0,235.84 L409.5,235.82 L410.0,236.05 L410.5,236.05 L411.0,236.12 L411.5,236.13 L412.0,236.03 L412.5,236.09 L413.0,236.06 L413.5,236.14 L414.0,236.16 L414.5,236.25 L415.0,236.27 L415.5,236.23 L416.0,236.17 L416.5,236.34 L417.0,236.29 L417.5,236.34 L418.0,236.32 L418.5,236.36 L419.0,236.36 L419.5,236.48 L420.0,236.59 L420.5,236.51 L421.0,236.48 L421.5,236.49 L422.0,236.34 L422.5,236.61 L423.0,236.60 L423.5,236.53 L424.0,236.54 L424.5,236.26 L425.0,236.16 L425.5,236.07 L426.0,235.96 L426.5,236.07 L427.0,235.97 L427.5,236.14 L428.0,236.17 L428.5,236.12 L429.0,236.18 L429.5,236.09 L430.0,236.11 L430.5,236.18 L431.0,236.33 L431.5,236.45 L432.0,236.36 L432.5,236.33 L433.0,236.05 L433.5,235.97 L434.0,236.03 L434.5,236.07 L435.0,236.16 L435.5,236.21 L436.0,236.11 L436.5,236.19 L437.0,236.33 L437.5,236.23 L438.0,236.27 L438.5,236.02 L439.0,236.02 L439.5,235.91 L440.0,235.80 L440.5,235.62 L441.0,235.49 L441.5,235.47 L442.0,235.52 L442.5,235.66 L443.0,235.56 L443.5,235.47 L444.0,235.51 L444.5,235.53 L445.0,235.62 L445.5,235.67 L446.0,235.70 L446.5,235.48 L447.0,235.64 L447.5,235.76 L448.0,235.67 L448.5,235.75 L449.0,235.70 L449.5,235.49 L450.0,235.55 L450.5,235.59 L451.0,235.52 L451.5,235.53 L452.0,235.61 L452.5,235.38 L453.0,235.33 L453.5,235.30 L454.0,235.17 L454.5,235.17 L455.0,235.28 L455.5,235.26 L456.0,235.21 L456.5,235.23 L457.0,235.28 L457.5,235.19 L458.0,235.22 L458.5,235.14 L459.0,235.06 L459.5,235.00 L460.0,234.91 L460.5,234.87 L461.0,234.87 L461.5,234.89 L462.0,234.72 L462.5,234.81 L463.0,234.88 L463.5,234.92 L464.0,234.95 L464.5,234.87 L465.0,234.95 L465.5,234.98 L466.0,235.18 L466.5,235.34 L467.0,235.47 L467.5,235.41 L468.0,235.35 L468.5,235.35 L469.0,235.36 L469.5,235.38 L470.0,235.27 L470.5,235.30 L471.0,235.26 L471.5,235.24 L472.0,235.32 L472.5,235.39 L473.0,235.45 L473.5,235.42 L474.0,235.53 L474.5,235.56 L475.0,235.56 L475.5,235.63 L476.0,235.69 L476.5,235.67 L477.0,235.64 L477.5,235.61 L478.0,235.67 L478.5,235.73 L479.0,235.67 L479.5,235.76 L480.0,235.65 L480.5,235.65 L481.0,235.77 L481.5,235.83 L482.0,235.91 L482.5,235.94 L483.0,235.90 L483.5,235.73 L484.0,235.65 L484.5,235.46 L485.0,235.68 L485.5,235.79 L486.0,235.73 L486.5,235.82 L487.0,235.73 L487.5,235.69 L488.0,235.75 L488.5,235.78 L489.0,235.71 L489.5,235.73 L490.0,235.63 L490.5,235.78 L491.0,235.75 L491.5,235.91 L492.0,235.93 L492.5,235.89 L493.0,235.87 L493.5,235.76 L494.0,235.72 L494.5,235.65 L495.0,235.74 L495.5,235.66 L496.0,235.81 L496.5,235.73 L497.0,235.63 L497.5,235.58 L498.0,235.65 L498.5,235.85 L499.0,235.86 L499.5,236.00 L500.0,235.93 L500.5,235.83 L501.0,235.85 L501.5,235.80 L502.0,235.92 L502.5,235.87 L503.0,235.80 L503.5,235.76 L504.0,235.77 L504.5,235.66 L505.0,235.74 L505.5,235.83 L506.0,235.71 L506.5,235.82 L507.0,235.84 L507.5,235.87 L508.0,236.00 L508.5,235.97 L509.0,235.93 L509.5,235.94 L510.0,235.85 L510.5,236.03 L511.0,235.84 L511.5,235.74 L512.0,235.73 L512.5,235.61 L513.0,235.64 L513.5,235.77 L514.0,235.82 L514.5,235.81 L515.0,235.79 L515.5,235.87 L516.0,235.85 L516.5,235.82 L517.0,235.89 L517.5,235.87 L518.0,235.97 L518.5,236.03 L519.0,235.82 L519.5,235.94 L520.0,236.15 L520.5,235.91 L521.0,236.07 L521.5,236.02 L522.0,235.87 L522.5,235.84 L523.0,235.81 L523.5,235.86 L524.0,235.83 L524.5,235.86 L525.0,235.86 L525.5,236.02 L526.0,236.09 L526.5,236.10 L527.0,236.04 L527.5,236.00 L528.0,235.90 L528.5,235.88 L529.0,236.03 L529.5,236.13 L530.0,236.16 L530.5,236.08 L531.0,236.06 L531.5,235.91 L532.0,235.76 L532.5,235.78 L533.0,235.72 L533.5,235.77 L534.0,235.85 L534.5,236.02 L535.0,235.98 L535.5,236.03 L536.0,235.97 L536.5,235.72 L537.0,235.46 L537.5,235.37 L538.0,235.36 L538.5,235.20 L539.0,235.18 L539.5,235.21 L540.0,235.37 L540.5,235.28 L541.0,235.31 L541.5,235.20" stroke="#0870CC"/>
<path d="M48.5,277.80 L49.0,277.80 L49.5,277.80 L50.0,277.81 L50.5,277.81 L51.0,277.81 L51.5,277.82 L52.0,277.82 L52.5,277.83 L53.0,277.84 L53.5,277.85 L54.0,277.85 L54.5,277.86 L55.0,277.87 L55.5,277.88 L56.0,277.89 L56.5,277.91 L57.0,277.92 L57.5,277.93 L58.0,277.94 L58.5,277.96 L59.0,277.97 L59.5,277.99 L60.0,278.00 L60.5,278.02 L61.0,278.05 L61.5,278.09 L62.0,278.13 L62.5,278.18 L63.0,278.24 L63.5,278.30 L64.0,278.36 L64.5,278.43 L65.0,278.50 L65.5,278.56 L66.0,278.63 L66.5,278.69 L67.0,278.75 L67.5,278.81 L68.0,278.86 L68.5,278.91 L69.0,278.95 L69.5,278.98 L70.0,279.00 L70.5,279.02 L71.0,279.03 L71.5,279.05 L72.0,279.06 L72.5,279.08 L73.0,279.09 L73.5,279.11 L74.0,279.12 L74.5,279.13 L75.0,279.14 L75.5,279.15 L76.0,279.16 L76.5,279.17 L77.0,279.18 L77.5,279.18 L78.0,279.19 L78.5,279.19 L79.0,279.20 L79.5,279.20 L80.0,279.20 L80.5,279.20 L81.0,279.20 L81.5,279.20 L82.0,279.20 L82.5,279.20 L83.0,279.19 L83.5,279.19 L84.0,279.19 L84.5,279.18 L85.0,279.18 L85.5,279.17 L86.0,279.17 L86.5,279.16 L87.0,279.15 L87.5,279.14 L88.0,279.13 L88.5,279.12 L89.0,279.11 L89.5,279.09 L90.0,279.08 L90.5,279.06 L91.0,279.04 L91.5,279.03 L92.0,279.00 L92.5,278.81 L93.0,278.24 L93.5,277.60 L94.0,276.98 L94.5,276.29 L95.0,275.56 L95.5,274.82 L96.0,274.10 L96.5,273.39 L97.0,272.66 L97.5,271.93 L98.0,271.19 L98.5,270.45 L99.0,269.72 L99.5,269.00 L100.0,268.30 L100.5,267.62 L101.0,266.97 L101.5,266.36 L102.0,265.76 L102.5,265.18 L103.0,264.61 L103.5,264.06 L104.0,263.52 L104.5,262.99 L105.0,262.47 L105.5,261.97 L106.0,261.48 L106.5,261.00 L107.0,260.52 L107.5,260.06 L108.0,259.61 L108.5,259.17 L109.0,258.73 L109.5,258.31 L110.0,257.90 L110.5,257.49 L111.0,257.09 L111.5,256.70 L112.0,256.32 L112.5,255.95 L113.0,255.59 L113.5,255.24 L114.0,254.89 L114.5,254.55 L115.0,254.22 L115.5,253.89 L116.0,253.57 L116.5,253.25 L117.0,252.93 L117.5,252.61 L118.0,252.30 L118.5,251.99 L119.0,251.68 L119.5,251.38 L120.0,251.08 L120.5,250.79 L121.0,250.50 L121.5,250.21 L122.0,249.93 L122.5,249.65 L123.0,249.38 L123.5,249.11 L124.0,248.84 L124.5,248.57 L125.0,248.30 L125.5,248.03 L126.0,247.77 L126.5,247.51 L127.0,247.25 L127.5,246.99 L128.0,246.74 L128.5,246.48 L129.0,246.24 L129.5,245.99 L130.0,245.75 L130.5,245.51 L131.0,245.28 L131.5,245.05 L132.0,244.82 L132.5,244.60 L133.0,244.39 L133.5,244.17 L134.0,243.96 L134.5,243.75 L135.0,243.54 L135.5,243.33 L136.0,243.12 L136.5,242.92 L137.0,242.72 L137.5,242.52 L138.0,242.32 L138.5,242.13 L139.0,241.94 L139.5,241.75 L140.0,241.57 L140.5,241.40 L141.0,241.23 L141.5,241.07 L142.0,240.91 L142.5,240.76 L143.0,240.61 L143.5,240.48 L144.0,240.35 L144.5,240.22 L145.0,240.10 L145.5,239.99 L146.0,239.87 L146.5,239.76 L147.0,239.66 L147.5,239.55 L148.0,239.45 L148.5,239.35 L149.0,239.26 L149.5,239.16 L150.0,239.07 L150.5,238.94 L151.0,238.92 L151.5,238.82 L152.0,238.78 L152.5,238.73 L153.0,238.66 L153.5,238.51 L154.0,238.44 L154.5,238.39 L155.0,238.29 L155.5,238.21 L156.0,238.14 L156.5,238.06 L157.0,237.95 L157.5,237.83 L158.0,237.73 L158.5,237.72 L159.0,237.70 L159.5,237.72 L160.0,237.62 L160.5,237.49 L161.0,237.51 L161.5,237.41 L162.0,237.37 L162.5,237.27 L163.0,237.16 L163.5,237.10 L164.0,237.07 L164.5,237.06 L165.0,237.06 L165.5,237.11 L166.0,236.99 L166.5,236.91 L167.0,236.80 L167.5,236.71 L168.0,236.67 L168.5,236.62 L169.0,236.59 L169.5,236.50 L170.0,236.48 L170.5,236.40 L171.0,236.31 L171.5,236.25 L172.0,236.18 L172.5,236.05 L173.0,235.97 L173.5,235.95 L174.0,235.87 L174.5,235.83 L175.0,235.82 L175.5,235.83 L176.0,235.78 L176.5,235.71 L177.0,235.63 L177.5,235.58 L178.0,235.66 L178.5,235.71 L179.0,235.77 L179.5,235.75 L180.0,235.76 L180.5,235.72 L181.0,235.70 L181.5,235.78 L182.0,235.81 L182.5,235.90 L183.0,235.94 L183.5,235.90 L184.0,235.83 L184.5,235.88 L185.0,235.92 L185.5,235.93 L186.0,236.04 L186.5,236.05 L187.0,236.08 L187.5,236.11 L188.0,236.11 L188.5,236.13 L189.0,236.12 L189.5,236.04 L190.0,236.01 L190.5,235.95 L191.0,235.95 L191.5,236.02 L192.0,235.98 L192.5,235.98 L193.0,236.02 L193.5,235.98 L194.0,235.94 L194.5,235.90 L195.0,235.88 L195.5,235.87 L196.0,235.98 L196.5,235.98 L197.0,235.99 L197.5,236.00 L198.0,235.93 L198.5,235.96 L199.0,235.97 L199.5,235.97 L200.0,235.97 L200.5,235.90 L201.0,235.86 L201.5,235.91 L202.0,235.93 L202.5,236.00 L203.0,236.04 L203.5,236.01 L204.0,236.02 L204.5,236.08 L205.0,236.10 L205.5,236.09 L206.0,236.12 L206.5,236.12 L207.0,236.17 L207.5,236.19 L208.0,236.21 L208.5,236.25 L209.0,236.28 L209.5,236.26 L210.0,236.20 L210.5,236.17 L211.0,236.12 L211.5,236.06 L212.0,236.01 L212.5,236.02 L213.0,236.08 L213.5,236.05 L214.0,235.99 L214.5,235.88 L215.0,235.82 L215.5,235.77 L216.0,235.72 L216.5,235.70 L217.0,235.64 L217.5,235.58 L218.0,235.58 L218.5,235.45 L219.0,235.43 L219.5,235.44 L220.0,235.28 L220.5,235.20 L221.0,235.12 L221.5,235.07 L222.0,235.11 L222.5,235.02 L223.0,234.99 L223.5,235.00 L224.0,234.98 L224.5,235.00 L225.0,234.93 L225.5,234.90 L226.0,234.89 L226.5,234.88 L227.0,234.88 L227.5,234.86 L228.0,234.82 L228.5,234.72 L229.0,234.72 L229.5,234.67 L230.0,234.59 L230.5,234.62 L231.0,234.54 L231.5,234.48 L232.0,234.50 L232.5,234.48 L233.0,234.40 L233.5,234.35 L234.0,234.33 L234.5,234.29 L235.0,234.21 L235.5,234.16 L236.0,234.12 L236.5,234.06 L237.0,234.01 L237.5,233.98 L238.0,233.95 L238.5,233.83 L239.0,233.77 L239.5,233.69 L240.0,233.72 L240.5,233.73 L241.0,233.63 L241.5,233.58 L242.0,233.56 L242.5,233.50 L243.0,233.45 L243.5,233.36 L244.0,233.37 L244.5,233.35 L245.0,233.34 L245.5,233.39 L246.0,233.32 L246.5,233.42 L247.0,233.43 L247.5,233.46 L248.0,233.41 L248.5,233.38 L249.0,233.39 L249.5,233.43 L250.0,233.42 L250.5,233.49 L251.0,233.41 L251.5,233.40 L252.0,233.35 L252.5,233.31 L253.0,233.38 L253.5,233.40 L254.0,233.44 L254.5,233.47 L255.0,233.46 L255.5,233.55 L256.0,233.46 L256.5,233.41 L257.0,233.44 L257.5,233.40 L258.0,233.41 L258.5,233.30 L259.0,233.38 L259.5,233.31 L260.0,233.34 L260.5,233.39 L261.0,233.40 L261.5,233.40 L262.0,233.49 L262.5,233.57 L263.0,233.69 L263.5,233.76 L264.0,233.80 L264.5,233.92 L265.0,233.96 L265.5,234.08 L266.0,234.10 L266.5,234.16 L267.0,234.30 L267.5,234.29 L268.0,234.35 L268.5,234.45 L269.0,234.49 L269.5,234.57 L270.0,234.62 L270.5,234.70 L271.0,234.72 L271.5,234.78 L272.0,234.90 L272.5,234.98 L273.0,235.12 L273.5,235.14 L274.0,235.13 L274.5,235.09 L275.0,235.13 L275.5,235.16 L276.0,235.21 L276.5,235.27 L277.0,235.29 L277.5,235.26 L278.0,235.28 L278.5,235.31 L279.0,235.27 L279.5,235.33 L280.0,235.38 L280.5,235.36 L281.0,235.40 L281.5,235.46 L282.0,235.46 L282.5,235.46 L283.0,235.46 L283.5,235.51 L284.0,235.55 L284.5,235.51 L285.0,235.44 L285.5,235.56 L286.0,235.61 L286.5,235.68 L287.0,235.69 L287.5,235.77 L288.0,235.81 L288.5,235.74 L289.0,235.71 L289.5,235.79 L290.0,235.83 L290.5,235.81 L291.0,235.80 L291.5,235.80 L292.0,235.77 L292.5,235.78 L293.0,235.72 L293.5,235.69 L294.0,235.73 L294.5,235.75 L295.0,235.74 L295.5,235.75 L296.0,235.71 L296.5,235.69 L297.0,235.73 L297.5,235.65 L298.0,235.59 L298.5,235.55 L299.0,235.52 L299.5,235.47 L300.0,235.42 L300.5,235.42 L301.0,235.47 L301.5,235.41 L302.0,235.39 L302.5,235.40 L303.0,235.38 L303.5,235.37 L304.0,235.43 L304.5,235.47 L305.0,235.43 L305.5,235.43 L306.0,235.39 L306.5,235.40 L307.0,235.42 L307.5,235.44 L308.0,235.47 L308.5,235.53 L309.0,235.53 L309.5,235.49 L310.0,235.56 L310.5,235.58 L311.0,235.65 L311.5,235.66 L312.0,235.70 L312.5,235.75 L313.0,235.75 L313.5,235.73 L314.0,235.76 L314.5,235.77 L315.0,235.76 L315.5,235.79 L316.0,235.73 L316.5,235.69 L317.0,235.79 L317.5,235.83 L318.0,235.83 L318.5,235.80 L319.0,235.78 L319.5,235.76 L320.0,235.69 L320.5,235.67 L321.0,235.60 L321.5,235.65 L322.0,235.56 L322.5,235.52 L323.0,235.50 L323.5,235.53 L324.0,235.50 L324.5,235.43 L325.0,235.47 L325.5,235.44 L326.0,235.43 L326.5,235.45 L327.0,235.53 L327.5,235.51 L328.0,235.58 L328.5,235.62 L329.0,235.59 L329.5,235.58 L330.0,235.63 L330.5,235.70 L331.0,235.78 L331.5,235.78 L332.0,235.87 L332.5,235.91 L333.0,236.01 L333.5,236.09 L334.0,236.21 L334.5,236.25 L335.0,236.29 L335.5,236.34 L336.0,236.45 L336.5,236.51 L337.0,236.50 L337.5,236.58 L338.0,236.65 L338.5,236.66 L339.0,236.64 L339.5,236.64 L340.0,236.65 L340.5,236.68 L341.0,236.69 L341.5,236.75 L342.0,236.77 L342.5,236.75 L343.0,236.70 L343.5,236.71 L344.0,236.68 L344.5,236.62 L345.0,236.65 L345.5,236.62 L346.0,236.54 L346.5,236.51 L347.0,236.48 L347.5,236.44 L348.0,236.37 L348.5,236.32 L349.0,236.30 L349.5,236.26 L350.0,236.18 L350.5,236.21 L351.0,236.19 L351.5,236.23 L352.0,236.18 L352.5,236.11 L353.0,236.09 L353.5,236.01 L354.0,236.00 L354.5,236.02 L355.0,236.06 L355.5,236.14 L356.0,236.11 L356.5,236.14 L357.0,236.11 L357.5,236.01 L358.0,236.09 L358.5,236.12 L359.0,236.14 L359.5,236.14 L360.0,236.15 L360.5,236.13 L361.0,236.19 L361.5,236.19 L362.0,236.19 L362.5,236.20 L363.0,236.24 L363.5,236.23 L364.0,236.25 L364.5,236.33 L365.0,236.34 L365.5,236.30 L366.0,236.24 L366.5,236.18 L367.0,236.12 L367.5,236.02 L368.0,236.04 L368.5,236.05 L369.0,236.03 L369.5,236.10 L370.0,236.07 L370.5,236.02 L371.0,235.98 L371.5,235.96 L372.0,236.03 L372.5,236.11 L373.0,236.07 L373.5,236.05 L374.0,236.07 L374.5,236.08 L375.0,236.08 L375.5,236.05 L376.0,236.09 L376.5,236.02 L377.0,236.05 L377.5,236.10 L378.0,236.10 L378.5,236.21 L379.0,236.18 L379.5,236.24 L380.0,236.26 L380.5,236.29 L381.0,236.30 L381.5,236.35 L382.0,236.37 L382.5,236.33 L383.0,236.38 L383.5,236.43 L384.0,236.39 L384.5,236.41 L385.0,236.40 L385.5,236.45 L386.0,236.47 L386.5,236.45 L387.0,236.49 L387.5,236.59 L388.0,236.59 L388.5,236.63 L389.0,236.62 L389.5,236.65 L390.0,236.72 L390.5,236.67 L391.0,236.77 L391.5,236.74 L392.0,236.74 L392.5,236.75 L393.0,236.78 L393.5,236.76 L394.0,236.76 L394.5,236.86 L395.0,236.83 L395.5,236.77 L396.0,236.71 L396.5,236.66 L397.0,236.72 L397.5,236.71 L398.0,236.75 L398.5,236.72 L399.0,236.71 L399.5,236.67 L400.0,236.66 L400.5,236.64 L401.0,236.66 L401.5,236.69 L402.0,236.65 L402.5,236.62 L403.0,236.56 L403.5,236.56 L404.0,236.54 L404.5,236.51 L405.0,236.47 L405.5,236.47 L406.0,236.45 L406.5,236.44 L407.0,236.43 L407.5,236.46 L408.0,236.55 L408.5,236.55 L409.0,236.43 L409.5,236.42 L410.0,236.38 L410.5,236.36 L411.0,236.33 L411.5,236.38 L412.0,236.39 L412.5,236.43 L413.0,236.38 L413.5,236.32 L414.0,236.30 L414.5,236.32 L415.0,236.40 L415.5,236.44 L416.0,236.44 L416.5,236.46 L417.0,236.44 L417.5,236.42 L418.0,236.35 L418.5,236.39 L419.0,236.38 L419.5,236.44 L420.0,236.42 L420.5,236.42 L421.0,236.48 L421.5,236.46 L422.0,236.42 L422.5,236.42 L423.0,236.39 L423.5,236.35 L424.0,236.31 L424.5,236.31 L425.0,236.35 L425.5,236.37 L426.0,236.39 L426.5,236.40 L427.0,236.32 L427.5,236.31 L428.0,236.29 L428.5,236.30 L429.0,236.35 L429.5,236.32 L430.0,236.39 L430.5,236.38 L431.0,236.49 L431.5,236.45 L432.0,236.40 L432.5,236.45 L433.0,236.51 L433.5,236.56 L434.0,236.64 L434.5,236.72 L435.0,236.69 L435.5,236.71 L436.0,236.72 L436.5,236.68 L437.0,236.69 L437.5,236.69 L438.0,236.65 L438.5,236.64 L439.0,236.64 L439.5,236.62 L440.0,236.66 L440.5,236.63 L441.0,236.62 L441.5,236.67 L442.0,236.64 L442.5,236.67 L443.0,236.64 L443.5,236.64 L444.0,236.69 L444.5,236.61 L445.0,236.61 L445.5,236.58 L446.0,236.58 L446.5,236.58 L447.0,236.62 L447.5,236.62 L448.0,236.65 L448.5,236.68 L449.0,236.70 L449.5,236.71 L450.0,236.69 L450.5,236.65 L451.0,236.73 L451.5,236.68 L452.0,236.63 L452.5,236.65 L453.0,236.64 L453.5,236.57 L454.0,236.60 L454.5,236.60 L455.0,236.57 L455.5,236.55 L456.0,236.58 L456.5,236.63 L457.0,236.58 L457.5,236.63 L458.0,236.56 L458.5,236.47 L459.0,236.45 L459.5,236.40 L460.0,236.42 L460.5,236.43 L461.0,236.35 L461.5,236.27 L462.0,236.30 L462.5,236.34 L463.0,236.29 L463.5,236.30 L464.0,236.35 L464.5,236.33 L465.0,236.29 L465.5,236.29 L466.0,236.29 L466.5,236.25 L467.0,236.20 L467.5,236.14 L468.0,236.11 L468.5,236.05 L469.0,236.02 L469.5,235.94 L470.0,235.99 L470.5,236.04 L471.0,236.01 L471.5,236.01 L472.0,235.91 L472.5,235.86 L473.0,235.90 L473.5,235.92 L474.0,235.95 L474.5,235.87 L475.0,235.85 L475.5,235.80 L476.0,235.76 L476.5,235.70 L477.0,235.76 L477.5,235.76 L478.0,235.65 L478.5,235.61 L479.0,235.56 L479.5,235.58 L480.0,235.51 L480.5,235.47 L481.0,235.45 L481.5,235.47 L482.0,235.42 L482.5,235.33 L483.0,235.38 L483.5,235.36 L484.0,235.34 L484.5,235.33 L485.0,235.29 L485.5,235.27 L486.0,235.25 L486.5,235.31 L487.0,235.33 L487.5,235.32 L488.0,235.28 L488.5,235.32 L489.0,235.27 L489.5,235.25 L490.0,235.29 L490.5,235.25 L491.0,235.27 L491.5,235.18 L492.0,235.19 L492.5,235.26 L493.0,235.24 L493.5,235.27 L494.0,235.25 L494.5,235.25 L495.0,235.23 L495.5,235.24 L496.0,235.27 L496.5,235.25 L497.0,235.27 L497.5,235.27 L498.0,235.26 L498.5,235.20 L499.0,235.18 L499.5,235.20 L500.0,235.23 L500.5,235.27 L501.0,235.24 L501.5,235.22 L502.0,235.21 L502.5,235.26 L503.0,235.31 L503.5,235.45 L504.0,235.44 L504.5,235.44 L505.0,235.48 L505.5,235.46 L506.0,235.43 L506.5,235.43 L507.0,235.43 L507.5,235.44 L508.0,235.42 L508.5,235.46 L509.0,235.44 L509.5,235.47 L510.0,235.47 L510.5,235.50 L511.0,235.49 L511.5,235.54 L512.0,235.55 L512.5,235.51 L513.0,235.53 L513.5,235.59 L514.0,235.66 L514.5,235.62 L515.0,235.58 L515.5,235.55 L516.0,235.58 L516.5,235.53 L517.0,235.52 L517.5,235.51 L518.0,235.60 L518.5,235.63 L519.0,235.63 L519.5,235.59 L520.0,235.64 L520.5,235.61 L521.0,235.64 L521.5,235.56 L522.0,235.56 L522.5,235.58 L523.0,235.61 L523.5,235.54 L524.0,235.51 L524.5,235.53 L525.0,235.56 L525.5,235.51 L526.0,235.48 L526.5,235.52 L527.0,235.53 L527.5,235.52 L528.0,235.52 L528.5,235.54 L529.0,235.52 L529.5,235.54 L530.0,235.51 L530.5,235.53 L531.0,235.58 L531.5,235.54 L532.0,235.51 L532.5,235.52 L533.0,235.48 L533.5,235.54 L534.0,235.54 L534.5,235.57 L535.0,235.52 L535.5,235.62 L536.0,235.65 L536.5,235.66 L537.0,235.68 L537.5,235.68 L538.0,235.76 L538.5,235.75 L539.0,235.77 L539.5,235.75 L540.0,235.76 L540.5,235.77 L541.0,235.82 L541.5,235.89" stroke="#F24A0E"/>
</g>
<g font-size="10.5" text-anchor="middle">
<text x="48.5" y="306.9">0</text>
<text x="110.1" y="306.9">10</text>
<text x="171.8" y="306.9">20</text>
<text x="233.4" y="306.9">30</text>
<text x="295.1" y="306.9">40</text>
<text x="356.7" y="306.9">50</text>
<text x="418.3" y="306.9">60</text>
<text x="480.0" y="306.9">70</text>
<text x="541.6" y="306.9">80</text>
</g>
<g font-size="10.5" text-anchor="end">
<text x="43.6" y="229.8">0.1</text>
<text x="43.6" y="255.2">0.05</text>
<text x="43.6" y="280.6">0</text>
</g>
<text x="295.4" y="322.5" font-size="11.6" text-anchor="middle">Time [s]</text>
<text transform="translate(11.2,258.2) rotate(-90)" font-size="12.2" text-anchor="middle">U<tspan font-size="8.8" dy="6.0">Yaw</tspan><tspan dy="-6.0"> [N.m]</tspan></text>
<rect x="411.3" y="189.0" width="102.49999999999994" height="30.19999999999999" fill="#fff" stroke="#2e2e2e" stroke-width="0.95"/>
<path d="M417.9,197.6H450.2" stroke="#0870CC" stroke-width="1.45"/>
<path d="M417.9,210.4H450.2" stroke="#F24A0E" stroke-width="1.45"/>
<text x="452.8" y="200.7" font-size="9.6">offset by fault</text>
<text x="452.8" y="214.2" font-size="9.6">estimation</text>
</svg>
</body></html>
